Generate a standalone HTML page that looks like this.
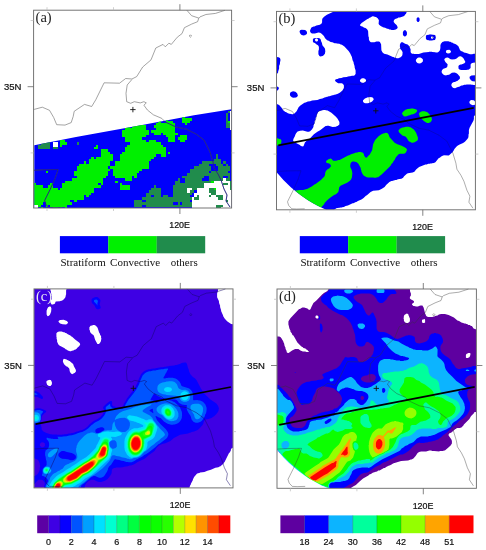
<!DOCTYPE html><html><head><meta charset="utf-8"><title>figure</title><style>html,body{margin:0;padding:0;background:#fff}svg{display:block}text{font-family:"Liberation Sans",sans-serif}.s,.s text{font-family:"Liberation Serif",serif}</style></head><body>
<svg width="486" height="550" viewBox="0 0 486 550">
<rect width="486" height="550" fill="#fff"/>
<clipPath id="ca"><polygon points="34.3,145.2 76.0,137.1 134.0,126.5 194.0,115.2 231.6,109.2 231.6,208.0 34.3,208.0"/></clipPath>
<g clip-path="url(#ca)" shape-rendering="crispEdges">
<rect x="33.6" y="100" width="198.0" height="110" fill="#0000fb"/>
<path fill="#00f000" d="M182.4,115.8h2.4v2.4h-2.4zM165.6,118.2h2.4v2.4h-2.4zM182.4,118.2h9.6v2.4h-9.6zM158.4,120.6h2.4v2.4h-2.4zM165.6,120.6h7.2v2.4h-7.2zM182.4,120.6h7.2v2.4h-7.2zM228.0,120.6h2.4v2.4h-2.4zM132.0,123.0h2.4v2.4h-2.4zM156.0,123.0h19.2v2.4h-19.2zM184.8,123.0h2.4v2.4h-2.4zM124.8,125.4h4.8v2.4h-4.8zM132.0,125.4h14.4v2.4h-14.4zM153.6,125.4h21.6v2.4h-21.6zM124.8,127.8h21.6v2.4h-21.6zM156.0,127.8h19.2v2.4h-19.2zM122.4,130.2h26.4v2.4h-26.4zM151.2,130.2h24.0v2.4h-24.0zM122.4,132.6h26.4v2.4h-26.4zM153.6,132.6h7.2v2.4h-7.2zM163.2,132.6h14.4v2.4h-14.4zM122.4,135.0h24.0v2.4h-24.0zM165.6,135.0h9.6v2.4h-9.6zM180.0,135.0h7.2v2.4h-7.2zM124.8,137.4h16.8v2.4h-16.8zM168.0,137.4h7.2v2.4h-7.2zM177.6,137.4h9.6v2.4h-9.6zM60.0,139.8h4.8v2.4h-4.8zM124.8,139.8h21.6v2.4h-21.6zM148.8,139.8h7.2v2.4h-7.2zM168.0,139.8h7.2v2.4h-7.2zM180.0,139.8h4.8v2.4h-4.8zM60.0,142.2h7.2v2.4h-7.2zM129.6,142.2h31.2v2.4h-31.2zM60.0,144.6h2.4v2.4h-2.4zM96.0,144.6h2.4v2.4h-2.4zM127.2,144.6h36.0v2.4h-36.0zM93.6,147.0h4.8v2.4h-4.8zM124.8,147.0h40.8v2.4h-40.8zM100.8,149.4h7.2v2.4h-7.2zM124.8,149.4h40.8v2.4h-40.8zM100.8,151.8h9.6v2.4h-9.6zM122.4,151.8h43.2v2.4h-43.2zM168.0,151.8h2.4v2.4h-2.4zM100.8,154.2h12.0v2.4h-12.0zM120.0,154.2h36.0v2.4h-36.0zM160.8,154.2h4.8v2.4h-4.8zM91.2,156.6h2.4v2.4h-2.4zM96.0,156.6h16.8v2.4h-16.8zM120.0,156.6h33.6v2.4h-33.6zM88.8,159.0h24.0v2.4h-24.0zM120.0,159.0h31.2v2.4h-31.2zM84.0,161.4h2.4v2.4h-2.4zM88.8,161.4h21.6v2.4h-21.6zM115.2,161.4h33.6v2.4h-33.6zM79.2,163.8h31.2v2.4h-31.2zM115.2,163.8h33.6v2.4h-33.6zM76.8,166.2h31.2v2.4h-31.2zM110.4,166.2h38.4v2.4h-38.4zM76.8,168.6h33.6v2.4h-33.6zM112.8,168.6h28.8v2.4h-28.8zM45.6,171.0h2.4v2.4h-2.4zM74.4,171.0h33.6v2.4h-33.6zM112.8,171.0h26.4v2.4h-26.4zM74.4,173.4h33.6v2.4h-33.6zM112.8,173.4h24.0v2.4h-24.0zM76.8,175.8h28.8v2.4h-28.8zM115.2,175.8h16.8v2.4h-16.8zM134.4,175.8h2.4v2.4h-2.4zM72.0,178.2h31.2v2.4h-31.2zM124.8,178.2h7.2v2.4h-7.2zM64.8,180.6h38.4v2.4h-38.4zM115.2,180.6h2.4v2.4h-2.4zM211.2,180.6h2.4v2.4h-2.4zM33.6,183.0h2.4v2.4h-2.4zM50.4,183.0h2.4v2.4h-2.4zM62.4,183.0h36.0v2.4h-36.0zM100.8,183.0h2.4v2.4h-2.4zM120.0,183.0h2.4v2.4h-2.4zM33.6,185.4h9.6v2.4h-9.6zM48.0,185.4h4.8v2.4h-4.8zM62.4,185.4h38.4v2.4h-38.4zM120.0,185.4h9.6v2.4h-9.6zM33.6,187.8h24.0v2.4h-24.0zM60.0,187.8h33.6v2.4h-33.6zM120.0,187.8h9.6v2.4h-9.6zM213.6,187.8h2.4v2.4h-2.4zM33.6,190.2h60.0v2.4h-60.0zM33.6,192.6h57.6v2.4h-57.6zM33.6,195.0h50.4v2.4h-50.4zM86.4,195.0h2.4v2.4h-2.4zM33.6,197.4h50.4v2.4h-50.4zM33.6,199.8h36.0v2.4h-36.0zM74.4,199.8h2.4v2.4h-2.4zM33.6,202.2h9.6v2.4h-9.6zM45.6,202.2h26.4v2.4h-26.4zM38.4,204.6h2.4v2.4h-2.4zM45.6,204.6h2.4v2.4h-2.4zM50.4,204.6h16.8v2.4h-16.8zM40.8,207.0h2.4v2.4h-2.4zM52.8,207.0h4.8v2.4h-4.8zM60.0,207.0h2.4v2.4h-2.4zM64.8,207.0h2.4v2.4h-2.4z"/>
<path fill="#208c4c" d="M228.0,111.0h2.4v2.4h-2.4zM225.6,113.4h2.4v2.4h-2.4zM225.6,115.8h2.4v2.4h-2.4zM225.6,118.2h2.4v2.4h-2.4zM225.6,120.6h2.4v2.4h-2.4zM225.6,123.0h4.8v2.4h-4.8zM225.6,125.4h4.8v2.4h-4.8zM40.8,142.2h9.6v2.4h-9.6zM76.8,142.2h2.4v2.4h-2.4zM38.4,144.6h12.0v2.4h-12.0zM38.4,147.0h12.0v2.4h-12.0zM52.8,147.0h4.8v2.4h-4.8zM216.0,154.2h2.4v2.4h-2.4zM216.0,156.6h2.4v2.4h-2.4zM213.6,159.0h7.2v2.4h-7.2zM201.6,161.4h19.2v2.4h-19.2zM223.2,161.4h2.4v2.4h-2.4zM199.2,163.8h9.6v2.4h-9.6zM216.0,163.8h7.2v2.4h-7.2zM225.6,163.8h2.4v2.4h-2.4zM194.4,166.2h16.8v2.4h-16.8zM218.4,166.2h12.0v2.4h-12.0zM189.6,168.6h21.6v2.4h-21.6zM218.4,168.6h12.0v2.4h-12.0zM189.6,171.0h19.2v2.4h-19.2zM211.2,171.0h16.8v2.4h-16.8zM187.2,173.4h43.2v2.4h-43.2zM182.4,175.8h21.6v2.4h-21.6zM208.8,175.8h14.4v2.4h-14.4zM228.0,175.8h2.4v2.4h-2.4zM177.6,178.2h2.4v2.4h-2.4zM184.8,178.2h16.8v2.4h-16.8zM208.8,178.2h14.4v2.4h-14.4zM225.6,178.2h4.8v2.4h-4.8zM175.2,180.6h4.8v2.4h-4.8zM184.8,180.6h26.4v2.4h-26.4zM230.4,180.6h2.4v2.4h-2.4zM175.2,183.0h28.8v2.4h-28.8zM223.2,183.0h4.8v2.4h-4.8zM230.4,183.0h2.4v2.4h-2.4zM153.6,185.4h2.4v2.4h-2.4zM172.8,185.4h31.2v2.4h-31.2zM230.4,185.4h2.4v2.4h-2.4zM151.2,187.8h9.6v2.4h-9.6zM172.8,187.8h14.4v2.4h-14.4zM192.0,187.8h4.8v2.4h-4.8zM208.8,187.8h4.8v2.4h-4.8zM230.4,187.8h2.4v2.4h-2.4zM148.8,190.2h12.0v2.4h-12.0zM172.8,190.2h14.4v2.4h-14.4zM189.6,190.2h4.8v2.4h-4.8zM208.8,190.2h7.2v2.4h-7.2zM146.4,192.6h14.4v2.4h-14.4zM172.8,192.6h19.2v2.4h-19.2zM211.2,192.6h4.8v2.4h-4.8zM146.4,195.0h4.8v2.4h-4.8zM153.6,195.0h7.2v2.4h-7.2zM163.2,195.0h4.8v2.4h-4.8zM172.8,195.0h16.8v2.4h-16.8zM196.8,195.0h2.4v2.4h-2.4zM208.8,195.0h2.4v2.4h-2.4zM216.0,195.0h7.2v2.4h-7.2zM141.6,197.4h50.4v2.4h-50.4zM194.4,197.4h4.8v2.4h-4.8zM218.4,197.4h4.8v2.4h-4.8zM134.4,199.8h7.2v2.4h-7.2zM146.4,199.8h43.2v2.4h-43.2zM225.6,199.8h2.4v2.4h-2.4zM134.4,202.2h38.4v2.4h-38.4zM177.6,202.2h2.4v2.4h-2.4zM182.4,202.2h9.6v2.4h-9.6zM134.4,204.6h7.2v2.4h-7.2zM146.4,204.6h45.6v2.4h-45.6zM216.0,204.6h7.2v2.4h-7.2zM216.0,207.0h4.8v2.4h-4.8z"/>
<path fill="#ffffff" d="M230.4,111.0h2.4v2.4h-2.4zM230.4,113.4h2.4v2.4h-2.4zM230.4,115.8h2.4v2.4h-2.4zM230.4,118.2h2.4v2.4h-2.4zM230.4,120.6h2.4v2.4h-2.4zM230.4,123.0h2.4v2.4h-2.4zM230.4,125.4h2.4v2.4h-2.4zM230.4,127.8h2.4v2.4h-2.4zM52.8,142.2h4.8v2.4h-4.8zM52.8,144.6h4.8v2.4h-4.8zM223.2,178.2h2.4v2.4h-2.4zM213.6,180.6h16.8v2.4h-16.8zM204.0,183.0h19.2v2.4h-19.2zM228.0,183.0h2.4v2.4h-2.4zM204.0,185.4h26.4v2.4h-26.4zM187.2,187.8h4.8v2.4h-4.8zM196.8,187.8h12.0v2.4h-12.0zM216.0,187.8h14.4v2.4h-14.4zM187.2,190.2h2.4v2.4h-2.4zM196.8,190.2h12.0v2.4h-12.0zM216.0,190.2h16.8v2.4h-16.8zM194.4,192.6h16.8v2.4h-16.8zM216.0,192.6h16.8v2.4h-16.8zM194.4,195.0h2.4v2.4h-2.4zM199.2,195.0h9.6v2.4h-9.6zM211.2,195.0h4.8v2.4h-4.8zM223.2,195.0h9.6v2.4h-9.6zM192.0,197.4h2.4v2.4h-2.4zM199.2,197.4h19.2v2.4h-19.2zM223.2,197.4h9.6v2.4h-9.6zM192.0,199.8h33.6v2.4h-33.6zM228.0,199.8h4.8v2.4h-4.8zM192.0,202.2h40.8v2.4h-40.8zM33.6,204.6h4.8v2.4h-4.8zM192.0,204.6h24.0v2.4h-24.0zM223.2,204.6h9.6v2.4h-9.6zM33.6,207.0h4.8v2.4h-4.8zM192.0,207.0h24.0v2.4h-24.0zM220.8,207.0h12.0v2.4h-12.0z"/>
</g>
<path d="M33.6,109.6 L34.5,109.3 L42.3,107.2 L49.5,110.3 L53.7,117.5 L56.7,124.7 L65.0,125.1 L71.2,122.6 L73.2,116.5 L74.2,111.3 L84.5,104.4 L91.7,106.5 L95.8,99.7 L104.1,82.8 L119.5,83.2 L125.7,78.5 L131.9,79.0 L136.7,76.6 L142.7,67.0 L151.0,59.9 L155.8,48.0 L163.0,44.4 L165.3,46.8 L168.9,43.2 L171.3,44.4 L177.3,37.2 L182.0,33.6 L184.4,27.7 L191.6,24.1 L197.6,21.7 L198.8,18.1 L191.6,15.7 L186.8,10.2 M198.8,18.1 L200.0,16.9 L205.9,14.5 L215.5,13.4 L225.0,10.3 M131.9,79.5 L127.2,85.0 L126.0,93.3 L126.7,101.7 L130.7,103.3 L134.3,101.7 L140.3,102.9 L143.9,101.7 L146.3,102.9 L143.9,105.2 L147.4,110.0 L153.4,114.8 L161.8,118.4 L165.3,122.0 L176.0,127.0 L186.0,129.0 L196.0,134.0 L204.0,140.0 L210.0,152.0 L213.0,162.0 L214.0,168.0 L218.0,174.0 L221.0,180.0 L224.0,189.0 L227.0,195.0 L226.0,201.0 L230.0,207.0 M190.4,34.8 L191.6,36.0 L190.4,37.2 L189.2,36.0 L190.4,34.8 M33.8,170.3 L43.9,169.7 L58.1,169.5 L55.1,178.4 L50.1,189.5 L46.4,196.9 L44.6,200.6 L45.8,204.3 L48.9,207.6 L53.8,207.8 L61.8,207.6" fill="none" stroke="#666" stroke-width="0.60" stroke-opacity="1.00" stroke-linejoin="round"/>
<g clip-path="url(#ca)"><path d="M33.6,109.6 L34.5,109.3 L42.3,107.2 L49.5,110.3 L53.7,117.5 L56.7,124.7 L65.0,125.1 L71.2,122.6 L73.2,116.5 L74.2,111.3 L84.5,104.4 L91.7,106.5 L95.8,99.7 L104.1,82.8 L119.5,83.2 L125.7,78.5 L131.9,79.0 L136.7,76.6 L142.7,67.0 L151.0,59.9 L155.8,48.0 L163.0,44.4 L165.3,46.8 L168.9,43.2 L171.3,44.4 L177.3,37.2 L182.0,33.6 L184.4,27.7 L191.6,24.1 L197.6,21.7 L198.8,18.1 L191.6,15.7 L186.8,10.2 M198.8,18.1 L200.0,16.9 L205.9,14.5 L215.5,13.4 L225.0,10.3 M131.9,79.5 L127.2,85.0 L126.0,93.3 L126.7,101.7 L130.7,103.3 L134.3,101.7 L140.3,102.9 L143.9,101.7 L146.3,102.9 L143.9,105.2 L147.4,110.0 L153.4,114.8 L161.8,118.4 L165.3,122.0 L176.0,127.0 L186.0,129.0 L196.0,134.0 L204.0,140.0 L210.0,152.0 L213.0,162.0 L214.0,168.0 L218.0,174.0 L221.0,180.0 L224.0,189.0 L227.0,195.0 L226.0,201.0 L230.0,207.0 M190.4,34.8 L191.6,36.0 L190.4,37.2 L189.2,36.0 L190.4,34.8 M33.8,170.3 L43.9,169.7 L58.1,169.5 L55.1,178.4 L50.1,189.5 L46.4,196.9 L44.6,200.6 L45.8,204.3 L48.9,207.6 L53.8,207.8 L61.8,207.6" fill="none" stroke="#14148c" stroke-width="0.75" stroke-opacity="1.00" stroke-linejoin="round"/></g>
<path d="M130.2,109.6h5.4M132.9,106.9v5.4" stroke="#111" stroke-width="0.9"/>
<rect x="33.6" y="10.2" width="198.0" height="197.8" fill="none" stroke="#6e6e6e" stroke-width="0.95"/>
<path d="M179.9,10.2v-6M179.9,208.0v6M33.6,86.7h-6M231.6,86.7h6" stroke="#666" stroke-width="0.8" fill="none"/>
<path d="M47.0,10.2v-3M47.0,208.0v3M113.5,10.2v-3M113.5,208.0v3M33.6,20.5h-3M231.6,20.5h3M33.6,152.9h-3M231.6,152.9h3" stroke="#bbb" stroke-width="0.7" fill="none"/>
<text x="21.4" y="90.1" font-size="9.5" text-anchor="end" fill="#111" stroke="#111" stroke-width="0.2">35N</text>
<text x="179.6" y="228.2" font-size="8.9" text-anchor="middle" fill="#111" stroke="#111" stroke-width="0.22">120E</text>
<text x="35.6" y="22.0" font-size="14.5" class="s" fill="#222">(a)</text>
<rect x="59.9" y="236.1" width="48.5" height="17.2" fill="#0000fb"/>
<rect x="108.3" y="236.1" width="48.5" height="17.2" fill="#00f000"/>
<rect x="156.7" y="236.1" width="48.5" height="17.2" fill="#208c4c"/>
<g class="s" font-size="11" fill="#111">
<text x="60.5" y="266.4">Stratiform</text>
<text x="110.1" y="266.4">Convective</text>
<text x="170.8" y="266.4">others</text>
</g>
<path d="M276.5,110.8 L277.4,110.5 L285.2,108.4 L292.4,111.5 L296.6,118.7 L299.6,125.9 L307.9,126.3 L314.1,123.8 L316.1,117.7 L317.1,112.5 L327.4,105.6 L334.6,107.7 L338.7,100.9 L347.0,84.0 L362.4,84.4 L368.6,79.7 L374.8,80.2 L379.6,77.8 L385.6,68.2 L393.9,61.1 L398.7,49.2 L405.9,45.6 L408.2,48.0 L411.8,44.4 L414.2,45.6 L420.2,38.4 L424.9,34.8 L427.3,28.9 L434.5,25.3 L440.5,22.9 L441.7,19.3 L434.5,16.9 L429.7,11.4 M441.7,19.3 L442.9,18.1 L448.8,15.7 L458.4,14.6 L467.9,11.5 M374.8,80.7 L370.1,86.2 L368.9,94.5 L369.6,102.9 L373.6,104.5 L377.2,102.9 L383.2,104.1 L386.8,102.9 L389.2,104.1 L386.8,106.4 L390.3,111.2 L396.3,116.0 L404.7,119.6 L408.2,123.2 L418.9,128.2 L428.9,130.2 L438.9,135.2 L446.9,141.2 L452.9,153.2 L455.9,163.2 L456.9,169.2 L460.9,175.2 L463.9,181.2 L466.9,190.2 L469.9,196.2 L468.9,202.2 L472.9,208.2 M433.3,36.0 L434.5,37.2 L433.3,38.4 L432.1,37.2 L433.3,36.0 M276.7,171.5 L286.8,170.9 L301.0,170.7 L298.0,179.6 L293.0,190.7 L289.3,198.1 L287.5,201.8 L288.7,205.5 L291.8,208.8 L296.7,209.0 L304.7,208.8" fill="none" stroke="#777" stroke-width="0.60" stroke-opacity="1.00" stroke-linejoin="round"/>
<clipPath id="cb"><rect x="276.5" y="11.4" width="198.9" height="198.4"/></clipPath>
<g clip-path="url(#cb)">
<path fill="#0000fb" fill-rule="evenodd" d="M290.1,92.8 289.9,95.0 290.4,96.0 292.1,97.5 292.9,97.5 293.1,97.8 296.1,97.5 297.4,96.5 297.9,95.5 297.1,93.3 295.4,91.8 293.1,91.3 291.6,91.8ZM276.6,86.3 276.6,90.8 277.9,90.3 278.9,88.5 278.6,87.3ZM469.6,76.8 469.6,78.3 470.9,80.3 472.6,81.3 475.4,81.5 475.4,75.3 471.4,75.5ZM277.4,57.0 276.6,57.0 276.6,74.0 276.6,73.8 277.4,73.5 278.1,72.5 278.1,71.8 279.1,68.5 279.1,66.0 279.9,64.0 280.1,61.5 280.4,61.3 280.4,59.3 279.9,58.0 278.6,57.3 277.6,57.3ZM313.4,38.5 312.9,39.3 312.9,41.5 313.4,42.5 314.9,43.0 316.6,44.5 317.6,45.0 318.4,45.8 318.9,47.0 318.9,49.5 318.4,51.0 318.4,54.3 319.4,56.0 320.4,56.5 322.6,56.0 323.4,55.5 324.9,53.8 325.4,50.8 325.1,50.5 325.1,49.0 324.6,48.0 322.4,45.3 321.9,42.8 321.4,42.0 320.6,39.3 319.9,38.5 318.4,38.0 315.1,38.0ZM315.9,38.5 317.1,38.5 318.1,39.8 317.9,40.8 317.1,41.5 315.9,41.5 314.9,40.3 315.1,39.3ZM435.4,35.5 434.9,35.0 431.1,34.5 430.9,34.3 430.6,34.5 429.1,34.5 428.9,34.8 426.9,35.0 426.1,35.5 425.9,36.3 425.9,38.8 426.9,40.0 428.9,40.3 429.1,40.5 432.4,40.5 432.6,40.3 434.9,40.0 435.6,38.8 435.6,38.0 435.9,37.8ZM430.9,37.3 431.6,36.5 432.9,36.5 433.4,37.0 433.4,38.0 432.6,38.8 431.9,38.8 431.1,38.3ZM405.6,30.3 404.1,30.3 402.9,32.0 402.9,34.5 403.1,35.3 404.1,36.3 404.9,36.5 405.6,36.3 406.6,35.3 406.9,34.8 406.9,33.5 407.1,33.3 406.9,33.0 406.9,32.0ZM300.1,30.3 299.6,31.3 299.6,32.0 300.4,33.8 301.6,35.0 303.9,35.5 304.1,35.3 305.1,35.3 305.9,34.5 306.6,34.3 307.1,33.3 306.9,32.0 306.4,31.0 305.1,30.0 301.6,29.8ZM418.1,17.3 417.4,17.5 416.6,18.5 416.6,20.8 417.6,22.0 418.6,22.0 419.6,20.8 419.6,18.8 419.1,17.8ZM475.4,53.8 473.9,53.8 472.1,54.3 469.9,54.3 466.4,53.0 463.9,52.5 463.4,52.0 461.9,51.3 461.4,51.3 460.1,50.3 458.4,46.3 456.6,44.8 454.9,43.8 454.1,43.8 452.1,42.5 451.4,42.5 450.4,41.8 449.6,41.8 448.4,41.3 444.6,41.3 442.4,42.0 440.9,43.8 440.4,45.3 440.4,48.5 440.1,48.8 440.1,49.8 439.6,50.8 438.4,52.0 437.4,52.5 435.6,52.5 435.4,52.3 432.1,52.0 431.9,51.8 429.1,51.8 428.9,52.0 423.4,52.5 418.9,54.0 414.1,54.0 413.9,53.8 412.1,53.8 411.1,53.0 410.6,52.0 410.6,49.3 409.1,46.0 407.6,44.5 405.1,43.8 402.6,42.3 401.4,42.3 400.6,43.0 399.9,44.8 399.9,47.0 400.1,47.3 400.4,49.0 401.9,50.8 402.6,52.3 402.4,55.0 401.9,56.0 400.6,57.3 398.4,58.3 396.6,58.3 395.9,57.8 394.6,57.8 393.6,57.0 392.9,57.0 387.4,54.5 384.1,53.8 382.4,52.3 381.4,50.3 381.1,44.3 379.9,42.0 378.9,41.5 376.4,41.5 374.4,42.3 371.1,42.3 370.4,42.0 369.4,40.8 368.9,39.3 368.9,37.5 368.4,36.3 368.1,31.0 367.1,29.3 365.9,28.3 364.9,27.8 364.1,27.8 362.9,26.8 360.6,26.0 359.9,25.0 361.6,23.0 367.4,19.0 368.4,18.8 369.1,18.0 370.9,17.3 371.4,16.8 371.9,16.8 372.4,16.3 373.1,16.3 376.4,17.3 377.9,18.5 378.9,20.3 378.6,23.8 379.1,24.8 379.6,25.0 380.1,25.8 380.6,25.8 381.4,26.5 381.9,26.5 382.9,27.3 385.1,27.8 387.1,28.8 388.1,28.8 389.4,29.5 390.4,29.5 391.6,30.0 394.1,30.0 394.4,29.8 395.1,29.8 396.6,29.0 397.6,28.0 397.6,27.0 396.6,25.0 395.1,23.8 393.9,22.3 393.6,21.3 394.1,20.0 395.1,19.0 397.4,18.3 398.4,17.5 399.9,17.5 403.6,16.3 404.6,15.5 405.1,14.5 405.9,14.0 406.9,11.5 333.9,11.5 326.9,14.8 324.4,16.5 322.6,18.3 322.1,19.8 322.1,22.3 321.6,23.5 319.9,24.8 316.4,25.5 314.4,26.5 313.6,26.5 311.4,27.5 310.1,30.3 310.1,31.5 310.6,32.5 311.9,33.5 314.9,33.5 318.4,32.5 320.1,32.8 321.6,33.8 323.9,36.0 325.1,38.3 327.1,40.3 328.6,40.8 330.6,42.0 332.4,42.3 334.6,43.3 336.4,43.3 336.6,43.5 339.4,43.8 340.1,44.3 341.9,44.8 344.4,46.5 348.6,51.0 350.1,53.3 351.9,57.0 352.6,60.3 353.6,62.3 353.6,63.0 354.6,66.3 354.6,67.3 355.6,70.5 355.6,74.0 354.4,75.5 353.6,75.8 351.6,75.8 351.4,76.0 347.9,76.5 346.9,77.0 343.4,77.3 341.4,78.0 338.9,78.3 337.6,79.0 335.9,79.3 335.1,80.0 335.1,80.8 335.6,81.5 338.1,83.3 341.6,83.3 342.4,83.5 343.6,84.8 343.9,85.5 343.9,87.8 343.6,88.5 342.4,90.5 340.1,92.5 337.9,93.8 334.9,94.8 334.1,94.8 333.1,95.3 332.4,95.3 329.4,96.3 328.6,96.3 327.6,96.8 326.9,96.8 325.9,97.3 325.1,97.3 322.4,98.5 319.9,99.0 317.4,100.0 312.1,100.5 310.1,101.3 307.9,101.5 305.6,102.5 304.4,102.8 300.4,105.5 298.6,107.3 296.6,111.3 294.4,113.5 293.1,114.3 291.6,114.3 291.4,114.0 289.4,113.8 287.9,113.3 285.9,112.0 285.4,112.0 282.9,110.0 281.6,107.8 279.1,105.0 276.9,104.0 276.6,104.3 276.6,172.3 283.4,180.0 291.1,187.5 298.4,193.5 307.6,200.0 313.9,203.8 316.1,204.8 316.6,205.3 326.1,209.8 333.9,209.8 336.9,208.0 338.4,208.0 338.6,207.8 340.1,207.8 340.4,207.5 341.9,207.5 342.1,207.3 343.9,207.0 345.6,206.0 347.9,205.5 352.6,203.3 353.4,203.3 355.9,202.0 356.4,202.0 357.9,201.0 361.4,199.5 363.6,198.0 365.9,195.8 366.9,195.3 370.6,192.0 373.1,190.8 378.9,190.3 381.9,188.8 384.6,187.0 386.1,185.0 389.4,182.0 391.4,181.0 392.1,181.0 395.4,180.0 396.4,180.0 397.9,179.3 401.4,178.8 403.1,177.8 404.1,176.3 406.9,173.8 407.9,173.3 412.6,172.5 414.4,171.8 416.1,169.5 419.1,167.0 425.4,164.5 426.6,164.5 428.4,163.8 429.9,163.8 430.1,163.5 431.6,163.5 431.9,163.3 433.9,163.0 435.4,162.3 438.6,158.3 440.1,157.5 441.1,156.5 442.4,156.0 442.9,155.5 443.6,155.5 443.9,155.3 448.6,155.5 449.1,155.3 451.9,152.8 453.4,151.0 454.6,148.8 457.1,146.0 459.1,144.8 463.1,143.0 464.9,141.8 467.6,138.8 468.4,137.3 468.6,134.0 468.9,133.8 468.9,130.0 469.6,127.8 473.4,120.8 473.9,119.0 473.9,116.5 474.1,116.0 475.4,115.0 475.4,104.0 474.9,104.8 472.9,105.3 470.9,104.5 469.6,103.3 469.4,102.5 469.6,101.3 470.6,100.3 471.4,100.0 473.6,100.3 474.1,100.5 475.4,102.0 475.4,85.0 473.4,85.0 473.1,84.8 471.4,84.8 471.1,84.5 466.4,84.5 466.1,84.8 464.4,84.8 462.4,85.5 461.6,85.5 460.4,86.0 459.9,86.5 457.1,87.3 455.1,88.3 453.4,88.0 452.4,87.3 451.4,85.8 451.4,84.5 452.1,83.0 453.9,82.0 454.9,82.0 457.4,80.8 457.9,80.8 458.1,80.3 459.6,79.0 459.9,78.5 459.9,76.8 457.6,74.0 456.1,73.0 454.4,72.5 451.9,72.8 449.1,74.8 447.1,75.0 446.9,75.3 445.6,75.3 445.4,75.5 443.6,74.8 441.9,73.0 441.6,71.5 442.1,70.0 443.4,68.8 446.4,67.8 447.4,66.5 447.4,65.5 447.6,65.3 447.6,64.3 445.4,62.0 444.4,60.0 444.4,59.0 445.9,57.8 447.9,57.5 450.6,59.3 451.4,59.3 451.6,59.5 454.9,59.3 456.6,58.5 458.9,56.5 460.6,56.3 462.1,57.0 463.6,58.5 465.4,62.0 464.4,63.3 461.4,64.5 460.6,64.5 459.4,65.0 458.6,65.8 458.4,66.5 458.6,68.8 459.9,69.8 460.6,69.8 460.9,70.0 466.6,70.0 466.9,69.8 468.1,69.8 468.9,69.5 470.6,68.0 470.6,64.5 471.6,63.3 473.1,62.8 475.4,62.5ZM339.4,122.0 339.4,124.3 339.1,124.8 337.6,126.0 337.1,126.0 335.9,126.8 332.6,127.0 328.6,125.8 326.9,125.8 326.6,126.0 325.6,126.0 320.1,130.3 317.4,131.8 313.9,134.3 309.9,138.5 308.4,139.8 306.9,140.5 304.9,142.5 303.6,146.0 302.9,146.5 300.9,146.0 299.9,145.0 294.1,142.0 293.1,140.8 293.4,139.0 295.1,135.8 295.1,135.3 296.1,133.3 297.6,131.5 300.1,130.8 302.9,130.5 307.4,131.8 308.9,131.8 310.1,131.3 312.1,129.3 313.4,127.0 313.6,125.3 314.4,123.5 314.6,121.3 315.4,119.8 315.6,118.0 316.4,116.5 316.6,115.3 318.1,112.0 319.4,111.0 321.9,110.5 322.1,110.3 323.1,110.3 323.4,110.0 325.4,110.0 325.6,110.3 327.6,110.5 331.4,112.8 335.9,116.8 337.6,118.8ZM373.6,98.8 373.6,99.8 372.1,101.5 370.4,102.5 367.9,103.3 365.1,103.3 364.4,103.0 363.4,102.3 362.9,101.3 363.1,100.3 364.9,98.5 367.9,97.3 369.1,97.3 369.4,97.0 371.9,97.3 372.6,97.5ZM359.9,80.3 361.1,78.8 362.4,78.3 363.6,78.3 364.9,78.8 365.9,79.8 366.1,80.8 365.9,81.5 364.1,82.8 361.9,82.8 360.1,81.5ZM417.4,58.0 418.6,57.5 420.4,57.5 422.1,58.5 422.9,59.5 422.9,61.3 422.6,61.8 420.9,63.3 420.1,63.3 419.9,63.5 417.9,63.3 417.1,62.8 415.9,61.3 415.9,59.8ZM445.9,51.0 446.9,50.0 449.4,49.8 450.9,51.0 450.9,52.3 449.6,53.3 447.9,53.5 446.6,53.0 446.1,52.5Z"/>
<path fill="#00f000" fill-rule="evenodd" d="M277.6,138.3 276.6,138.3 276.6,145.5 278.1,145.3 279.4,144.5 279.9,144.5 280.6,143.8 281.4,142.3 281.4,140.5 280.9,139.5 280.1,139.0 279.4,139.0ZM406.9,149.3 406.1,148.3 404.6,147.3 401.6,145.8 397.4,144.3 394.6,142.8 389.6,137.3 388.6,134.5 387.4,133.0 385.6,132.8 384.6,133.3 382.9,133.5 382.4,134.0 381.4,134.3 378.6,136.3 375.1,140.0 373.1,144.3 372.1,150.3 369.6,154.8 368.6,155.5 366.9,157.5 365.9,157.8 364.9,156.8 364.1,155.5 363.9,154.0 362.6,152.5 361.9,152.5 360.9,152.0 358.6,152.0 357.4,152.5 355.1,152.8 354.4,153.3 350.9,154.3 349.9,155.0 348.1,155.5 339.6,160.0 338.6,160.0 336.1,160.8 333.4,160.8 332.9,160.5 331.6,159.0 330.6,158.5 328.4,159.3 326.1,161.0 326.1,162.3 326.9,163.0 329.4,163.5 329.9,164.3 330.4,164.5 330.9,165.5 330.9,166.5 329.1,168.5 327.6,169.3 325.9,171.0 325.1,173.3 325.1,174.8 324.4,176.5 320.9,180.0 315.6,184.0 314.4,184.5 312.1,186.3 307.6,188.8 303.1,190.0 298.9,190.0 298.6,190.3 297.4,190.3 297.1,190.5 295.6,190.5 295.1,190.8 301.4,195.8 307.6,200.0 313.9,203.8 321.1,207.5 324.1,204.3 324.9,202.5 325.6,202.0 326.9,200.5 331.1,197.0 334.1,195.0 335.9,194.3 338.1,192.3 338.6,191.0 339.1,187.8 339.6,186.8 340.9,185.5 347.1,182.8 349.6,181.0 350.9,179.8 351.9,177.5 352.4,172.8 352.1,172.5 352.1,171.5 351.6,169.8 350.4,167.3 350.1,165.5 350.4,165.3 350.4,164.0 351.1,162.5 352.4,161.5 354.4,161.5 354.6,161.8 356.4,162.0 358.4,163.8 360.6,167.8 361.1,170.3 361.4,170.5 361.4,171.5 362.4,173.8 363.4,175.3 365.1,176.5 365.6,176.5 366.6,177.3 367.4,177.3 367.6,177.5 373.6,177.5 373.9,177.8 375.9,177.8 377.1,177.3 378.1,177.3 381.9,174.3 389.6,166.8 390.9,165.3 391.1,164.5 393.1,162.3 393.6,161.0 394.6,160.0 395.9,157.3 398.6,154.3 399.9,153.8 404.1,153.8 405.4,153.0 406.1,152.0 406.9,150.3ZM398.6,130.3 398.6,131.5 399.4,132.8 402.4,135.5 405.4,136.5 406.6,137.8 408.6,141.0 410.1,142.0 410.6,142.0 411.6,142.8 412.9,142.8 414.6,142.3 417.4,140.5 417.9,139.5 417.9,137.5 416.1,132.8 414.1,129.8 410.6,127.3 409.9,127.3 408.9,126.8 405.6,126.8 405.4,127.0 401.6,127.8 401.1,128.3 400.1,128.5ZM419.4,112.8 419.1,113.3 419.1,114.8 420.1,117.5 423.9,121.0 426.1,122.5 427.4,123.0 428.9,123.0 429.6,122.5 430.1,122.5 431.1,121.5 431.9,120.0 431.9,118.8 431.1,116.5 430.1,115.5 429.9,114.8 427.4,112.3 424.6,111.3 422.1,111.3 420.4,112.0ZM417.1,110.3 416.4,109.5 412.9,108.5 410.9,108.5 410.6,108.8 407.6,109.0 406.6,109.5 405.9,109.5 403.6,111.3 402.1,113.0 402.1,114.0 403.6,116.0 404.6,116.5 406.6,116.3 409.1,115.3 409.9,115.3 411.1,114.5 413.1,114.3 415.6,113.0 417.1,111.3Z"/>
</g>
<clipPath id="cbb"><path clip-rule="evenodd" d="M290.1,92.8 289.9,95.0 290.4,96.0 292.1,97.5 292.9,97.5 293.1,97.8 296.1,97.5 297.4,96.5 297.9,95.5 297.1,93.3 295.4,91.8 293.1,91.3 291.6,91.8ZM276.6,86.3 276.6,90.8 277.9,90.3 278.9,88.5 278.6,87.3ZM469.6,76.8 469.6,78.3 470.9,80.3 472.6,81.3 475.4,81.5 475.4,75.3 471.4,75.5ZM277.4,57.0 276.6,57.0 276.6,74.0 276.6,73.8 277.4,73.5 278.1,72.5 278.1,71.8 279.1,68.5 279.1,66.0 279.9,64.0 280.1,61.5 280.4,61.3 280.4,59.3 279.9,58.0 278.6,57.3 277.6,57.3ZM313.4,38.5 312.9,39.3 312.9,41.5 313.4,42.5 314.9,43.0 316.6,44.5 317.6,45.0 318.4,45.8 318.9,47.0 318.9,49.5 318.4,51.0 318.4,54.3 319.4,56.0 320.4,56.5 322.6,56.0 323.4,55.5 324.9,53.8 325.4,50.8 325.1,50.5 325.1,49.0 324.6,48.0 322.4,45.3 321.9,42.8 321.4,42.0 320.6,39.3 319.9,38.5 318.4,38.0 315.1,38.0ZM315.9,38.5 317.1,38.5 318.1,39.8 317.9,40.8 317.1,41.5 315.9,41.5 314.9,40.3 315.1,39.3ZM435.4,35.5 434.9,35.0 431.1,34.5 430.9,34.3 430.6,34.5 429.1,34.5 428.9,34.8 426.9,35.0 426.1,35.5 425.9,36.3 425.9,38.8 426.9,40.0 428.9,40.3 429.1,40.5 432.4,40.5 432.6,40.3 434.9,40.0 435.6,38.8 435.6,38.0 435.9,37.8ZM430.9,37.3 431.6,36.5 432.9,36.5 433.4,37.0 433.4,38.0 432.6,38.8 431.9,38.8 431.1,38.3ZM405.6,30.3 404.1,30.3 402.9,32.0 402.9,34.5 403.1,35.3 404.1,36.3 404.9,36.5 405.6,36.3 406.6,35.3 406.9,34.8 406.9,33.5 407.1,33.3 406.9,33.0 406.9,32.0ZM300.1,30.3 299.6,31.3 299.6,32.0 300.4,33.8 301.6,35.0 303.9,35.5 304.1,35.3 305.1,35.3 305.9,34.5 306.6,34.3 307.1,33.3 306.9,32.0 306.4,31.0 305.1,30.0 301.6,29.8ZM418.1,17.3 417.4,17.5 416.6,18.5 416.6,20.8 417.6,22.0 418.6,22.0 419.6,20.8 419.6,18.8 419.1,17.8ZM475.4,53.8 473.9,53.8 472.1,54.3 469.9,54.3 466.4,53.0 463.9,52.5 463.4,52.0 461.9,51.3 461.4,51.3 460.1,50.3 458.4,46.3 456.6,44.8 454.9,43.8 454.1,43.8 452.1,42.5 451.4,42.5 450.4,41.8 449.6,41.8 448.4,41.3 444.6,41.3 442.4,42.0 440.9,43.8 440.4,45.3 440.4,48.5 440.1,48.8 440.1,49.8 439.6,50.8 438.4,52.0 437.4,52.5 435.6,52.5 435.4,52.3 432.1,52.0 431.9,51.8 429.1,51.8 428.9,52.0 423.4,52.5 418.9,54.0 414.1,54.0 413.9,53.8 412.1,53.8 411.1,53.0 410.6,52.0 410.6,49.3 409.1,46.0 407.6,44.5 405.1,43.8 402.6,42.3 401.4,42.3 400.6,43.0 399.9,44.8 399.9,47.0 400.1,47.3 400.4,49.0 401.9,50.8 402.6,52.3 402.4,55.0 401.9,56.0 400.6,57.3 398.4,58.3 396.6,58.3 395.9,57.8 394.6,57.8 393.6,57.0 392.9,57.0 387.4,54.5 384.1,53.8 382.4,52.3 381.4,50.3 381.1,44.3 379.9,42.0 378.9,41.5 376.4,41.5 374.4,42.3 371.1,42.3 370.4,42.0 369.4,40.8 368.9,39.3 368.9,37.5 368.4,36.3 368.1,31.0 367.1,29.3 365.9,28.3 364.9,27.8 364.1,27.8 362.9,26.8 360.6,26.0 359.9,25.0 361.6,23.0 367.4,19.0 368.4,18.8 369.1,18.0 370.9,17.3 371.4,16.8 371.9,16.8 372.4,16.3 373.1,16.3 376.4,17.3 377.9,18.5 378.9,20.3 378.6,23.8 379.1,24.8 379.6,25.0 380.1,25.8 380.6,25.8 381.4,26.5 381.9,26.5 382.9,27.3 385.1,27.8 387.1,28.8 388.1,28.8 389.4,29.5 390.4,29.5 391.6,30.0 394.1,30.0 394.4,29.8 395.1,29.8 396.6,29.0 397.6,28.0 397.6,27.0 396.6,25.0 395.1,23.8 393.9,22.3 393.6,21.3 394.1,20.0 395.1,19.0 397.4,18.3 398.4,17.5 399.9,17.5 403.6,16.3 404.6,15.5 405.1,14.5 405.9,14.0 406.9,11.5 333.9,11.5 326.9,14.8 324.4,16.5 322.6,18.3 322.1,19.8 322.1,22.3 321.6,23.5 319.9,24.8 316.4,25.5 314.4,26.5 313.6,26.5 311.4,27.5 310.1,30.3 310.1,31.5 310.6,32.5 311.9,33.5 314.9,33.5 318.4,32.5 320.1,32.8 321.6,33.8 323.9,36.0 325.1,38.3 327.1,40.3 328.6,40.8 330.6,42.0 332.4,42.3 334.6,43.3 336.4,43.3 336.6,43.5 339.4,43.8 340.1,44.3 341.9,44.8 344.4,46.5 348.6,51.0 350.1,53.3 351.9,57.0 352.6,60.3 353.6,62.3 353.6,63.0 354.6,66.3 354.6,67.3 355.6,70.5 355.6,74.0 354.4,75.5 353.6,75.8 351.6,75.8 351.4,76.0 347.9,76.5 346.9,77.0 343.4,77.3 341.4,78.0 338.9,78.3 337.6,79.0 335.9,79.3 335.1,80.0 335.1,80.8 335.6,81.5 338.1,83.3 341.6,83.3 342.4,83.5 343.6,84.8 343.9,85.5 343.9,87.8 343.6,88.5 342.4,90.5 340.1,92.5 337.9,93.8 334.9,94.8 334.1,94.8 333.1,95.3 332.4,95.3 329.4,96.3 328.6,96.3 327.6,96.8 326.9,96.8 325.9,97.3 325.1,97.3 322.4,98.5 319.9,99.0 317.4,100.0 312.1,100.5 310.1,101.3 307.9,101.5 305.6,102.5 304.4,102.8 300.4,105.5 298.6,107.3 296.6,111.3 294.4,113.5 293.1,114.3 291.6,114.3 291.4,114.0 289.4,113.8 287.9,113.3 285.9,112.0 285.4,112.0 282.9,110.0 281.6,107.8 279.1,105.0 276.9,104.0 276.6,104.3 276.6,172.3 283.4,180.0 291.1,187.5 298.4,193.5 307.6,200.0 313.9,203.8 316.1,204.8 316.6,205.3 326.1,209.8 333.9,209.8 336.9,208.0 338.4,208.0 338.6,207.8 340.1,207.8 340.4,207.5 341.9,207.5 342.1,207.3 343.9,207.0 345.6,206.0 347.9,205.5 352.6,203.3 353.4,203.3 355.9,202.0 356.4,202.0 357.9,201.0 361.4,199.5 363.6,198.0 365.9,195.8 366.9,195.3 370.6,192.0 373.1,190.8 378.9,190.3 381.9,188.8 384.6,187.0 386.1,185.0 389.4,182.0 391.4,181.0 392.1,181.0 395.4,180.0 396.4,180.0 397.9,179.3 401.4,178.8 403.1,177.8 404.1,176.3 406.9,173.8 407.9,173.3 412.6,172.5 414.4,171.8 416.1,169.5 419.1,167.0 425.4,164.5 426.6,164.5 428.4,163.8 429.9,163.8 430.1,163.5 431.6,163.5 431.9,163.3 433.9,163.0 435.4,162.3 438.6,158.3 440.1,157.5 441.1,156.5 442.4,156.0 442.9,155.5 443.6,155.5 443.9,155.3 448.6,155.5 449.1,155.3 451.9,152.8 453.4,151.0 454.6,148.8 457.1,146.0 459.1,144.8 463.1,143.0 464.9,141.8 467.6,138.8 468.4,137.3 468.6,134.0 468.9,133.8 468.9,130.0 469.6,127.8 473.4,120.8 473.9,119.0 473.9,116.5 474.1,116.0 475.4,115.0 475.4,104.0 474.9,104.8 472.9,105.3 470.9,104.5 469.6,103.3 469.4,102.5 469.6,101.3 470.6,100.3 471.4,100.0 473.6,100.3 474.1,100.5 475.4,102.0 475.4,85.0 473.4,85.0 473.1,84.8 471.4,84.8 471.1,84.5 466.4,84.5 466.1,84.8 464.4,84.8 462.4,85.5 461.6,85.5 460.4,86.0 459.9,86.5 457.1,87.3 455.1,88.3 453.4,88.0 452.4,87.3 451.4,85.8 451.4,84.5 452.1,83.0 453.9,82.0 454.9,82.0 457.4,80.8 457.9,80.8 458.1,80.3 459.6,79.0 459.9,78.5 459.9,76.8 457.6,74.0 456.1,73.0 454.4,72.5 451.9,72.8 449.1,74.8 447.1,75.0 446.9,75.3 445.6,75.3 445.4,75.5 443.6,74.8 441.9,73.0 441.6,71.5 442.1,70.0 443.4,68.8 446.4,67.8 447.4,66.5 447.4,65.5 447.6,65.3 447.6,64.3 445.4,62.0 444.4,60.0 444.4,59.0 445.9,57.8 447.9,57.5 450.6,59.3 451.4,59.3 451.6,59.5 454.9,59.3 456.6,58.5 458.9,56.5 460.6,56.3 462.1,57.0 463.6,58.5 465.4,62.0 464.4,63.3 461.4,64.5 460.6,64.5 459.4,65.0 458.6,65.8 458.4,66.5 458.6,68.8 459.9,69.8 460.6,69.8 460.9,70.0 466.6,70.0 466.9,69.8 468.1,69.8 468.9,69.5 470.6,68.0 470.6,64.5 471.6,63.3 473.1,62.8 475.4,62.5ZM339.4,122.0 339.4,124.3 339.1,124.8 337.6,126.0 337.1,126.0 335.9,126.8 332.6,127.0 328.6,125.8 326.9,125.8 326.6,126.0 325.6,126.0 320.1,130.3 317.4,131.8 313.9,134.3 309.9,138.5 308.4,139.8 306.9,140.5 304.9,142.5 303.6,146.0 302.9,146.5 300.9,146.0 299.9,145.0 294.1,142.0 293.1,140.8 293.4,139.0 295.1,135.8 295.1,135.3 296.1,133.3 297.6,131.5 300.1,130.8 302.9,130.5 307.4,131.8 308.9,131.8 310.1,131.3 312.1,129.3 313.4,127.0 313.6,125.3 314.4,123.5 314.6,121.3 315.4,119.8 315.6,118.0 316.4,116.5 316.6,115.3 318.1,112.0 319.4,111.0 321.9,110.5 322.1,110.3 323.1,110.3 323.4,110.0 325.4,110.0 325.6,110.3 327.6,110.5 331.4,112.8 335.9,116.8 337.6,118.8ZM373.6,98.8 373.6,99.8 372.1,101.5 370.4,102.5 367.9,103.3 365.1,103.3 364.4,103.0 363.4,102.3 362.9,101.3 363.1,100.3 364.9,98.5 367.9,97.3 369.1,97.3 369.4,97.0 371.9,97.3 372.6,97.5ZM359.9,80.3 361.1,78.8 362.4,78.3 363.6,78.3 364.9,78.8 365.9,79.8 366.1,80.8 365.9,81.5 364.1,82.8 361.9,82.8 360.1,81.5ZM417.4,58.0 418.6,57.5 420.4,57.5 422.1,58.5 422.9,59.5 422.9,61.3 422.6,61.8 420.9,63.3 420.1,63.3 419.9,63.5 417.9,63.3 417.1,62.8 415.9,61.3 415.9,59.8ZM445.9,51.0 446.9,50.0 449.4,49.8 450.9,51.0 450.9,52.3 449.6,53.3 447.9,53.5 446.6,53.0 446.1,52.5Z"/></clipPath>
<g clip-path="url(#cbb)"><path d="M276.5,110.8 L277.4,110.5 L285.2,108.4 L292.4,111.5 L296.6,118.7 L299.6,125.9 L307.9,126.3 L314.1,123.8 L316.1,117.7 L317.1,112.5 L327.4,105.6 L334.6,107.7 L338.7,100.9 L347.0,84.0 L362.4,84.4 L368.6,79.7 L374.8,80.2 L379.6,77.8 L385.6,68.2 L393.9,61.1 L398.7,49.2 L405.9,45.6 L408.2,48.0 L411.8,44.4 L414.2,45.6 L420.2,38.4 L424.9,34.8 L427.3,28.9 L434.5,25.3 L440.5,22.9 L441.7,19.3 L434.5,16.9 L429.7,11.4 M441.7,19.3 L442.9,18.1 L448.8,15.7 L458.4,14.6 L467.9,11.5 M374.8,80.7 L370.1,86.2 L368.9,94.5 L369.6,102.9 L373.6,104.5 L377.2,102.9 L383.2,104.1 L386.8,102.9 L389.2,104.1 L386.8,106.4 L390.3,111.2 L396.3,116.0 L404.7,119.6 L408.2,123.2 L418.9,128.2 L428.9,130.2 L438.9,135.2 L446.9,141.2 L452.9,153.2 L455.9,163.2 L456.9,169.2 L460.9,175.2 L463.9,181.2 L466.9,190.2 L469.9,196.2 L468.9,202.2 L472.9,208.2 M433.3,36.0 L434.5,37.2 L433.3,38.4 L432.1,37.2 L433.3,36.0 M276.7,171.5 L286.8,170.9 L301.0,170.7 L298.0,179.6 L293.0,190.7 L289.3,198.1 L287.5,201.8 L288.7,205.5 L291.8,208.8 L296.7,209.0 L304.7,208.8" fill="none" stroke="#0a0a8c" stroke-width="0.50" stroke-opacity="0.80" stroke-linejoin="round"/></g>
<g clip-path="url(#cb)"><line x1="278.3" y1="145.4" x2="473.7" y2="107.8" stroke="#000" stroke-width="1.75"/></g>
<path d="M373.1,110.8h5.4M375.8,108.1v5.4" stroke="#111" stroke-width="0.9"/>
<clipPath id="cc"><rect x="34.0" y="288.9" width="199.0" height="199.0"/></clipPath>
<g clip-path="url(#cc)">
<path fill="#3e00e4" fill-rule="evenodd" d="M34.1,289.0 34.1,487.8 189.4,487.8 190.1,485.5 190.9,484.3 190.9,483.8 192.9,480.0 192.9,479.5 194.1,477.0 196.9,473.8 197.9,473.3 199.4,473.0 200.1,472.5 204.4,472.0 207.4,470.8 210.9,469.8 215.4,467.8 218.4,467.3 219.6,466.5 220.1,466.5 223.4,463.8 223.6,463.0 224.6,462.0 228.9,453.3 229.9,452.3 230.9,450.3 230.9,449.5 231.4,448.5 232.9,447.8 232.9,324.3 231.1,324.0 227.1,321.3 224.6,318.5 223.1,316.0 223.1,315.5 221.1,311.0 221.1,310.3 220.1,307.0 220.1,305.8 219.1,303.0 218.9,301.0 217.1,297.3 217.1,293.5 218.1,290.3 217.9,289.0 66.4,289.0 66.4,290.0 66.1,290.3 66.1,294.5 65.9,294.8 65.4,297.3 63.9,299.3 61.9,300.8 61.1,300.8 59.9,301.3 55.9,301.5 55.4,302.0 55.1,303.3 54.4,304.0 53.9,304.0 53.1,304.5 51.6,304.5 50.4,302.5 50.4,301.0 51.9,299.0 51.9,296.5 51.4,295.5 51.4,293.8 51.1,293.5 50.9,291.3 50.4,290.3 50.4,289.0ZM46.9,380.8 49.4,379.8 49.6,380.0 50.6,380.0 51.1,380.5 51.9,382.3 51.9,384.3 50.6,386.0 48.9,386.0 47.1,384.8 46.4,382.5 46.4,381.5ZM63.9,358.8 66.6,359.5 67.1,360.0 68.1,360.3 69.1,361.0 69.6,361.0 73.1,364.0 73.9,366.3 75.9,370.0 75.9,371.5 74.9,372.8 72.1,374.3 70.6,373.0 69.6,371.0 69.6,370.0 69.1,368.3 67.1,366.5 66.6,366.5 65.9,366.0 64.1,364.3 62.9,361.8 63.1,359.8ZM56.4,333.3 57.6,332.0 59.1,331.5 61.6,331.5 63.6,332.3 64.4,332.3 65.4,333.0 66.1,333.0 67.4,334.0 70.4,335.5 71.4,336.5 72.1,336.8 75.1,339.5 79.1,342.5 80.1,343.8 80.1,344.8 79.1,346.3 77.6,347.5 76.6,348.8 75.1,349.8 74.4,349.8 73.4,350.5 71.9,350.8 70.9,351.3 69.9,351.3 68.9,350.8 68.1,350.8 66.9,349.8 65.6,349.3 64.6,348.3 59.4,345.5 58.4,344.5 57.1,341.8 57.1,340.0 56.6,338.8 56.6,337.0 56.4,336.8ZM90.6,325.8 92.1,325.5 93.1,325.0 94.4,325.0 95.9,325.8 97.6,327.8 99.1,332.5 99.9,333.8 100.1,334.8 101.1,336.3 101.1,338.0 101.4,338.3 100.9,341.3 99.9,343.0 98.9,344.0 97.4,344.0 95.1,339.8 93.9,335.8 93.1,334.8 92.1,334.3 90.6,332.8 90.1,331.8 89.9,330.5 89.4,329.8 89.4,327.3ZM58.4,321.3 59.1,320.5 60.4,320.0 63.6,319.8 66.9,321.0 68.1,322.5 67.1,324.0 65.9,324.5 62.6,324.3 60.1,323.5 58.9,322.3ZM50.4,306.5 50.9,307.0 51.4,308.5 51.1,311.8 49.9,314.8 48.9,315.8 47.9,316.3 47.1,315.8 47.1,315.3 46.6,314.5 46.6,310.8 47.4,308.5 48.1,307.3 49.4,306.5Z"/>
<path fill="#0600ff" fill-rule="evenodd" d="M34.1,391.0 34.1,396.8 37.1,396.8 41.6,399.0 42.1,399.0 42.9,398.5 42.9,397.0 42.6,396.5 39.1,392.8 36.4,391.3ZM218.1,406.0 216.4,403.5 210.4,399.5 204.4,393.8 200.9,388.5 196.6,380.3 195.1,378.5 192.9,377.0 190.4,374.3 189.1,371.5 188.6,369.0 188.1,368.3 186.9,363.8 185.9,362.5 183.9,362.5 183.6,362.8 182.6,362.8 181.1,363.3 180.4,363.8 176.6,365.0 175.4,365.0 174.4,365.5 169.1,366.0 168.9,366.3 167.6,366.3 167.4,366.5 166.1,366.5 165.9,366.8 164.6,366.8 162.9,367.3 160.4,367.3 160.1,367.5 158.9,367.5 158.6,367.8 157.6,367.8 157.4,368.0 156.4,368.0 154.9,368.5 152.9,368.5 152.6,368.8 151.6,368.8 150.1,369.3 148.6,369.3 147.6,369.8 146.9,369.8 144.9,370.8 143.1,372.0 141.1,374.0 138.9,378.8 137.6,382.5 134.9,388.0 126.9,398.5 125.4,401.5 124.1,403.3 123.1,406.0 122.1,407.0 121.4,407.3 116.4,407.3 114.4,406.5 113.6,406.5 113.1,406.3 112.1,405.0 112.1,401.8 111.6,401.0 110.6,401.0 109.4,401.5 105.9,404.3 103.6,406.5 103.1,407.5 103.1,408.3 104.1,409.8 104.1,411.5 102.4,414.8 100.1,417.3 97.6,419.0 93.6,421.0 90.1,423.8 87.1,427.0 85.1,428.5 81.6,430.3 80.1,430.5 77.6,431.5 76.9,431.5 73.9,432.8 70.9,433.3 70.6,433.5 68.9,433.5 66.4,434.3 64.4,434.3 64.1,434.5 62.4,434.5 62.1,434.8 57.1,434.8 56.9,434.5 51.9,434.5 51.6,434.3 50.4,434.3 46.4,433.0 43.4,431.5 41.6,429.5 41.6,427.5 40.6,424.3 40.6,421.8 41.4,420.0 41.6,417.3 42.1,415.8 44.4,413.3 46.1,412.0 46.1,411.3 45.4,410.5 42.9,409.3 39.9,408.3 37.1,408.3 35.1,409.0 34.4,409.0 34.1,409.3 34.1,458.3 37.4,459.5 38.4,460.5 39.6,463.0 39.9,465.0 40.1,465.3 40.1,466.8 39.9,467.0 39.6,470.3 38.1,473.5 36.9,474.8 34.6,476.0 34.1,476.0 34.1,484.3 34.6,484.0 36.1,482.0 38.1,480.0 38.6,479.8 41.6,479.8 42.9,480.3 44.6,482.3 44.9,483.8 44.1,486.3 44.1,487.8 84.6,487.8 84.9,485.8 86.1,483.5 88.1,481.5 91.1,479.8 93.9,479.8 96.6,481.3 98.9,482.0 101.1,482.0 104.9,480.8 107.6,479.0 110.4,475.5 111.6,473.3 111.9,469.8 112.6,468.8 114.1,468.0 115.9,467.8 116.1,467.5 121.1,467.5 121.4,467.3 122.9,467.3 124.1,466.8 127.6,466.3 129.6,465.5 130.9,465.5 133.1,464.8 135.1,463.8 137.6,462.0 144.1,459.0 145.9,457.8 148.6,455.3 153.9,451.5 154.9,450.5 156.6,447.8 158.9,445.5 162.1,444.0 165.4,443.3 170.4,441.0 173.9,438.0 180.1,434.8 188.1,433.5 188.9,433.0 190.9,432.5 191.6,432.0 194.1,431.5 197.6,430.0 198.9,429.0 202.6,425.0 203.4,423.5 203.6,422.0 204.6,420.3 205.4,419.5 208.6,419.0 211.4,418.0 214.1,416.3 216.6,413.8 217.9,412.0 218.6,410.5 218.6,409.5 218.9,409.3 218.9,408.3ZM41.1,442.5 42.6,442.3 42.9,442.5 43.6,442.5 44.6,443.3 44.9,443.8 44.9,445.8 44.1,446.8 43.1,447.3 41.6,447.3 40.1,446.0 39.9,445.5 39.9,444.0ZM94.1,297.5 92.6,298.3 91.6,299.3 91.6,302.0 91.9,302.3 91.9,303.0 94.4,305.3 95.9,308.3 97.1,309.3 98.6,309.3 100.6,308.3 100.6,307.0 99.6,304.3 100.1,302.8 100.1,301.8 100.4,301.5 100.4,300.3 99.9,299.3 98.1,297.5 97.1,297.0 95.9,297.0Z"/>
<path fill="#0054ff" fill-rule="evenodd" d="M42.9,411.3 39.6,410.0 36.9,410.0 36.6,410.3 34.1,410.8 34.1,423.8 37.6,423.0 39.9,422.0 40.9,419.8 41.1,414.8 42.1,413.0 43.1,412.0ZM34.1,393.0 34.1,394.8 37.6,394.8 37.1,394.0 35.6,393.3ZM205.4,404.5 203.4,402.3 202.4,401.5 200.1,400.5 197.9,400.3 197.6,400.0 193.6,400.3 193.1,399.8 193.1,394.0 192.1,391.8 191.1,390.3 189.9,389.0 188.6,388.3 182.1,386.3 181.1,385.3 180.6,383.5 179.4,381.5 176.9,379.3 174.9,378.3 174.1,378.3 172.9,377.8 167.9,377.8 167.6,378.0 166.1,378.0 165.9,378.3 163.9,378.5 163.4,378.0 163.6,377.3 164.6,375.8 165.6,373.5 166.1,373.0 167.4,370.3 167.9,369.8 168.1,368.5 164.9,368.8 163.1,369.3 160.9,369.3 160.6,369.5 159.4,369.5 159.1,369.8 158.1,369.8 157.9,370.0 156.9,370.0 155.4,370.5 153.1,370.5 150.6,371.3 149.1,371.3 146.4,372.3 144.6,373.5 142.6,375.5 140.4,380.5 139.1,384.3 136.6,389.0 133.6,393.3 128.4,399.8 125.4,404.8 124.9,406.5 124.4,407.3 122.4,408.8 120.6,408.8 120.4,409.0 115.6,409.0 113.6,408.3 112.9,408.3 110.9,407.0 110.1,405.3 110.1,404.0 109.9,403.8 105.9,407.0 105.6,408.5 106.1,409.3 106.1,410.3 106.4,410.5 106.1,411.8 104.4,415.3 102.6,417.5 101.1,419.0 98.6,420.8 95.4,422.3 93.9,423.3 92.9,424.3 91.6,425.0 88.1,428.5 85.6,430.3 82.1,432.0 80.6,432.3 76.9,433.5 76.1,434.0 71.9,435.3 69.1,435.5 66.6,436.3 62.6,436.5 62.4,436.8 57.4,436.8 58.4,438.5 57.9,439.0 53.1,439.0 52.9,438.8 51.1,438.8 50.9,438.5 48.6,438.3 47.6,437.8 46.9,437.8 46.6,438.0 46.6,439.3 48.1,440.8 48.9,442.3 48.9,443.0 49.1,443.3 49.1,445.8 48.4,448.0 47.6,449.0 45.6,450.5 45.4,451.0 45.4,452.0 45.1,452.3 45.1,455.3 45.6,456.8 45.9,459.3 46.6,461.5 46.6,465.0 45.6,466.3 44.9,466.5 43.1,468.3 42.4,470.0 42.6,473.3 41.9,474.8 41.9,475.5 42.1,475.8 43.9,476.3 45.6,477.3 46.9,478.5 47.9,480.3 47.9,481.5 45.9,485.0 45.4,486.5 45.4,487.8 80.6,487.8 81.1,485.8 82.1,484.8 84.6,483.0 91.1,477.3 93.6,476.0 95.1,476.0 99.1,477.8 101.1,477.8 103.4,476.8 104.4,475.8 107.4,471.0 107.4,470.5 107.9,469.8 107.9,468.8 109.1,466.5 111.1,464.8 113.9,460.3 114.9,459.3 115.9,459.3 116.1,459.5 119.4,460.0 121.4,460.8 123.6,461.0 126.4,462.0 128.1,462.0 128.4,462.3 131.6,462.3 134.4,461.0 136.9,459.3 137.4,459.3 138.4,458.5 142.1,456.8 144.6,454.8 145.9,454.3 148.9,452.3 155.6,447.0 158.4,444.3 159.6,443.8 166.1,438.8 167.1,437.8 168.1,435.8 168.4,434.0 167.9,432.3 165.9,429.3 160.6,424.3 157.1,420.3 155.4,416.3 156.1,416.0 158.9,417.5 160.6,418.0 163.9,421.5 167.6,423.8 171.1,424.8 173.1,424.8 173.4,424.5 174.6,424.5 176.9,423.8 178.6,422.8 180.1,421.3 181.4,419.0 181.9,417.5 181.9,416.0 182.1,415.8 181.9,412.0 180.1,407.8 178.6,405.8 174.4,402.0 173.4,401.8 171.6,400.8 168.1,400.0 167.9,399.8 164.9,399.8 164.6,400.0 163.4,400.0 163.1,400.3 162.1,400.3 160.4,400.8 159.6,401.3 159.1,401.3 156.9,402.8 155.9,403.0 154.4,401.3 152.9,400.5 150.9,400.3 150.6,400.0 150.6,399.3 153.4,394.5 154.6,393.3 156.9,395.5 161.4,397.8 163.1,398.3 164.9,398.3 165.9,398.8 175.1,399.5 176.6,400.0 177.9,401.3 178.9,402.8 181.4,404.3 182.9,404.8 184.1,404.8 184.4,405.0 186.6,405.0 186.9,405.3 186.6,408.5 187.1,410.3 188.4,412.8 190.6,416.0 191.6,419.5 193.4,421.8 195.6,422.8 197.9,422.8 200.6,421.8 202.1,420.5 204.1,417.5 204.9,416.0 205.1,414.8 205.9,413.5 206.4,411.8 206.4,410.8 206.6,410.5 206.6,407.8ZM58.4,454.3 58.9,453.3 60.9,451.5 61.9,451.0 64.1,451.0 66.9,452.0 71.6,453.0 73.9,454.0 75.6,455.5 75.9,456.0 75.9,458.0 75.6,458.5 74.1,459.8 72.4,460.3 70.6,460.3 67.9,459.3 66.6,459.3 66.4,459.0 62.1,458.8 60.1,457.8 58.6,456.3 58.4,455.8ZM104.4,428.8 104.4,429.5 103.9,430.3 99.9,432.5 98.4,433.0 96.4,433.0 95.4,431.8 95.4,429.8 97.4,428.3 100.9,427.3 102.4,427.3 103.4,427.8ZM149.4,410.5 150.6,409.5 152.1,408.8 152.6,408.8 152.9,409.0 152.9,411.0 153.1,411.3 153.4,413.0 153.1,413.3 151.1,411.8 149.9,411.3ZM94.9,299.8 94.4,300.0 93.9,300.8 94.1,301.8 96.6,304.3 97.6,306.0 97.4,305.8 97.4,303.0 97.9,301.8 97.9,300.8 96.6,299.5Z"/>
<path fill="#00a0ff" fill-rule="evenodd" d="M49.1,466.8 48.1,466.8 47.9,466.5 45.9,466.8 44.9,467.3 43.9,468.3 43.1,469.8 43.1,471.8 43.6,473.0 44.9,474.0 47.9,474.0 49.1,473.5 50.9,472.0 51.4,470.5 51.1,470.3 51.1,469.3 50.6,468.0ZM58.1,449.0 57.1,448.3 56.4,448.3 54.6,448.8 51.1,450.8 48.6,453.0 47.9,454.5 47.9,456.0 48.1,456.5 49.1,457.3 50.9,457.3 52.4,456.3 55.4,453.3 57.6,451.5 58.4,450.0ZM34.1,412.3 34.1,422.5 36.6,422.3 39.1,421.5 39.9,420.8 40.4,419.5 40.4,416.0 39.4,413.5 37.6,412.5ZM151.4,404.3 150.6,404.0 150.4,404.3 145.9,404.5 145.6,404.8 141.1,405.3 140.9,405.5 138.9,405.8 137.1,406.5 136.4,406.5 134.6,407.3 133.9,407.3 130.9,408.8 122.6,411.3 119.4,413.0 116.4,416.0 114.9,419.0 114.9,420.0 116.1,419.3 119.9,418.0 124.6,417.8 126.9,418.8 128.9,420.8 129.9,422.8 129.9,425.8 129.6,426.0 129.6,427.0 128.6,429.3 125.6,431.8 124.9,432.0 121.6,432.0 121.4,431.8 120.6,431.8 117.9,430.3 116.6,428.8 115.4,426.3 114.9,424.5 114.6,422.0 114.4,421.5 114.1,421.5 112.6,424.0 111.9,429.5 111.1,430.3 106.9,430.3 106.6,430.5 105.4,430.5 103.1,431.3 100.6,432.8 97.6,433.8 95.9,433.8 94.1,432.8 93.1,432.8 92.9,432.5 90.6,432.5 90.1,433.0 87.6,433.5 84.4,435.8 79.6,440.8 77.6,443.5 77.6,444.0 76.6,446.0 76.6,447.3 76.1,448.5 76.1,451.5 77.1,454.8 77.4,457.3 76.1,459.8 74.6,461.0 70.9,462.8 70.4,462.8 68.4,464.0 67.9,464.0 65.4,465.3 63.9,466.8 63.6,467.5 62.6,468.8 60.6,469.8 59.4,470.8 58.9,470.8 57.4,471.5 56.1,472.5 53.9,473.5 52.9,474.3 50.4,477.3 48.9,481.8 46.6,485.5 46.1,487.8 78.4,487.8 78.6,486.5 79.9,485.3 84.1,482.3 90.9,476.5 94.6,474.5 102.4,468.5 106.6,464.3 109.4,461.0 110.4,459.3 111.4,456.5 112.6,455.3 114.4,455.3 116.4,456.0 119.9,456.5 121.6,457.3 125.9,458.0 127.4,458.8 128.6,458.8 129.6,459.3 131.4,459.3 133.9,458.0 136.9,457.8 139.1,456.8 140.9,455.5 144.4,451.8 145.9,451.0 151.1,446.3 154.1,444.3 155.6,442.8 159.4,440.0 161.4,438.0 162.1,437.8 164.4,435.8 164.9,434.8 164.9,434.3 163.9,432.5 159.6,428.3 158.9,427.0 156.6,424.5 155.6,422.8 153.6,420.5 152.4,418.0 149.9,415.5 143.1,412.0 142.6,411.3 142.6,410.5 143.9,409.3 146.9,407.3 151.1,405.0ZM114.6,440.3 115.9,441.3 116.6,442.8 116.9,446.5 115.6,448.0 113.4,448.8 112.4,448.8 110.1,446.8 109.6,445.5 109.4,443.0 109.9,441.8 111.4,440.8 112.6,440.3ZM193.1,404.0 191.9,404.5 190.6,405.8 190.6,406.5 190.4,406.8 190.6,409.0 191.6,411.0 194.1,414.8 194.4,416.5 195.1,418.3 196.4,419.3 197.6,419.3 199.1,418.8 200.4,417.5 201.9,414.5 202.9,411.5 203.1,408.5 202.6,406.8 200.9,404.8 198.6,403.8 194.4,403.8 194.1,404.0ZM157.1,407.5 156.6,408.5 156.6,410.5 157.9,412.5 159.9,414.0 162.1,415.0 164.4,417.5 166.6,419.5 169.9,421.0 172.1,421.3 172.4,421.0 173.9,421.0 174.6,420.5 175.9,420.3 176.6,419.8 177.4,418.8 178.4,416.5 178.4,413.5 177.9,411.8 176.4,409.0 174.1,406.5 171.9,404.8 170.4,404.0 165.9,403.3 165.6,403.5 164.6,403.5 161.1,404.5 158.9,405.8ZM157.6,386.3 157.4,388.0 157.1,388.3 157.4,388.5 157.4,389.8 158.1,391.5 159.9,393.0 162.9,394.3 165.4,394.5 166.6,395.0 175.6,395.8 177.9,396.5 179.4,397.8 179.9,399.0 181.4,400.8 183.4,401.8 186.4,401.8 188.9,400.5 189.9,398.8 189.9,398.0 190.1,397.8 190.1,394.3 188.9,391.8 187.9,390.8 185.4,389.8 181.9,390.0 179.6,389.0 178.4,388.0 176.9,384.3 174.9,382.3 173.9,381.8 172.1,381.3 168.6,381.3 168.4,381.5 166.6,381.5 165.4,382.0 162.4,382.5 159.6,383.8 158.1,385.3Z"/>
<path fill="#00e0ff" fill-rule="evenodd" d="M45.6,467.3 44.1,468.5 43.4,470.3 43.6,471.8 44.1,472.8 44.9,473.3 45.6,473.3 45.9,473.5 47.9,473.3 49.9,471.8 50.4,470.8 50.1,469.0 49.9,468.5 48.4,467.3ZM121.9,433.3 120.4,432.3 117.9,431.5 114.9,431.8 114.6,432.0 111.6,432.0 111.4,431.8 109.1,431.8 108.9,431.5 106.4,431.5 106.1,431.8 104.6,431.8 104.4,432.0 102.4,432.3 100.6,433.3 98.6,433.8 97.9,434.5 97.9,436.0 98.4,436.8 99.9,437.3 100.4,438.0 97.6,443.8 96.4,445.8 96.4,446.3 95.4,448.3 89.6,454.3 86.1,457.3 80.9,460.3 76.1,463.8 71.6,466.5 70.9,467.3 66.4,469.8 63.4,472.0 58.4,474.8 56.4,476.3 51.9,481.0 48.9,486.3 48.6,487.8 70.4,487.8 71.1,487.3 72.6,487.0 76.1,485.3 77.4,484.3 80.1,483.0 85.1,478.5 91.4,475.3 96.9,470.5 100.9,466.5 109.1,459.0 110.9,455.3 111.1,453.5 112.1,450.5 112.1,449.8 109.6,447.0 109.1,445.3 109.1,442.3 109.4,441.8 112.1,439.5 112.1,438.8 111.1,437.5 111.1,437.0 111.4,436.8 115.4,437.0 120.6,435.3 121.6,434.3ZM151.9,419.5 149.4,419.3 149.1,419.5 148.4,419.5 147.1,420.3 145.9,420.3 142.9,418.8 141.6,418.5 140.9,418.0 136.1,416.3 134.9,416.3 134.6,416.0 130.6,415.5 130.4,415.3 129.1,415.3 127.4,416.5 127.1,417.5 127.6,418.5 129.6,420.3 130.9,420.8 133.6,421.3 134.6,421.8 135.4,421.8 137.4,422.8 138.6,423.0 142.4,424.8 143.4,425.8 143.1,426.5 142.4,427.0 141.6,427.0 140.6,427.5 139.9,427.5 137.6,428.3 134.1,428.3 131.4,429.5 129.4,431.0 127.9,432.8 125.4,437.3 124.6,439.8 124.6,441.0 124.4,441.3 124.4,448.0 124.6,448.3 124.6,449.3 125.1,451.0 127.1,454.8 129.9,457.3 131.6,458.0 133.9,457.3 136.9,457.0 139.1,456.0 140.1,455.3 143.9,451.3 144.9,450.8 146.1,449.5 147.4,445.8 147.4,442.5 148.4,441.3 152.1,439.3 153.1,438.5 154.6,436.8 156.9,430.3 156.9,429.5 157.4,428.3 157.4,427.0 155.1,423.3ZM34.1,415.0 34.1,420.8 36.6,421.0 37.9,420.5 38.9,419.3 38.9,418.5 39.1,418.3 38.6,416.3 37.6,415.3 36.4,414.8ZM164.9,405.5 163.4,406.5 162.1,407.8 161.4,409.5 161.4,412.3 161.6,412.5 161.6,413.3 161.9,413.8 163.9,415.5 165.1,417.3 166.6,418.5 168.9,419.5 171.1,419.3 172.4,418.5 173.9,417.0 174.6,415.3 174.6,411.8 173.1,408.5 170.6,406.0 168.9,405.3 165.6,405.3ZM184.6,391.3 182.9,391.8 181.1,393.3 180.6,394.3 180.6,396.5 181.1,398.0 182.4,399.5 184.1,400.3 185.4,400.3 186.6,399.8 188.1,398.3 188.6,397.0 188.6,394.5 188.1,393.3 186.9,392.0ZM164.1,389.0 164.1,390.3 165.4,391.5 167.1,392.0 170.1,391.8 171.9,390.3 171.9,389.0 171.1,388.0 170.4,387.5 168.4,387.3 168.1,387.0 165.6,387.5 164.9,388.0Z"/>
<path fill="#00ffd0" fill-rule="evenodd" d="M45.9,467.8 44.6,468.8 44.1,469.8 44.1,471.0 44.6,472.0 45.4,472.5 47.6,472.5 48.4,472.0 49.1,471.0 49.1,469.0 48.1,468.0ZM109.9,439.3 108.9,438.3 106.4,437.3 104.4,437.5 103.4,438.0 102.1,439.3 101.1,441.3 101.1,441.8 99.9,444.3 99.4,444.8 97.1,449.5 91.9,455.3 87.1,459.3 81.4,462.5 70.6,470.0 65.6,472.8 60.4,476.3 59.1,476.8 53.4,482.5 50.6,487.8 64.4,487.8 65.1,486.8 66.1,486.3 71.6,485.0 79.1,481.3 83.6,477.0 90.1,473.8 106.6,458.8 108.1,457.0 108.9,455.5 109.1,453.3 109.4,453.0 109.4,452.0 109.9,450.5 109.9,448.3 109.4,447.5 109.1,445.5 108.9,445.3 108.9,442.0 110.1,440.3ZM152.9,421.8 150.6,421.3 150.4,421.5 149.4,421.5 147.4,422.8 144.4,422.3 144.1,423.0 145.9,424.8 145.9,426.0 144.4,428.5 138.9,430.3 135.6,430.3 135.4,430.5 134.4,430.5 131.6,432.0 129.1,434.8 127.9,437.0 126.9,439.8 126.6,442.5 126.4,442.8 126.4,446.5 126.6,446.8 126.9,449.3 127.9,451.3 127.9,451.8 128.4,452.3 128.9,453.5 131.6,456.0 132.6,456.5 135.1,456.5 135.4,456.3 136.6,456.3 138.1,455.8 139.4,455.0 143.6,450.5 144.9,447.5 144.9,446.5 145.1,446.3 145.1,445.0 145.4,444.8 145.4,440.8 146.1,440.0 151.1,437.3 152.6,435.8 154.1,431.8 154.1,431.0 154.9,428.8 155.4,428.0 155.4,427.0 155.6,426.8 155.4,425.0 154.1,423.0ZM35.6,416.8 34.9,417.3 34.6,418.3 35.6,419.3 36.4,419.3 37.1,418.5 37.1,417.5 36.9,417.0ZM165.9,407.3 164.1,408.8 163.6,409.8 163.6,410.8 163.4,411.0 163.6,413.3 164.6,415.3 166.9,417.3 168.6,417.8 170.1,417.5 171.9,416.0 172.4,415.0 172.6,412.8 171.9,410.3 169.6,407.8 167.4,407.0Z"/>
<path fill="#00ff84" fill-rule="evenodd" d="M47.4,468.8 46.6,468.5 45.4,469.0 45.1,469.5 45.1,470.8 45.9,471.5 47.1,471.5 47.9,471.0 48.1,469.5ZM108.6,439.8 107.1,438.8 104.9,438.8 103.9,439.3 102.9,440.5 100.6,445.0 99.6,446.3 97.9,450.3 92.6,456.0 88.1,459.8 83.6,462.3 70.9,471.0 67.1,473.0 59.1,478.3 54.1,483.0 51.6,487.8 62.9,487.8 64.6,485.8 65.6,485.3 71.6,484.0 77.6,481.0 79.1,480.0 83.4,476.0 88.6,473.5 90.1,472.5 97.1,466.3 102.1,461.3 104.4,459.5 107.6,456.0 108.1,454.5 108.6,451.0 108.9,450.8 108.9,449.5 109.1,449.3 108.9,445.5 108.6,445.3 108.6,441.8 108.9,441.5 108.9,440.3ZM153.1,423.3 152.1,422.8 149.9,422.8 148.9,423.3 147.9,424.5 145.9,428.5 144.9,429.5 138.4,431.8 137.9,431.5 135.4,431.5 133.9,432.0 132.6,432.8 130.1,435.3 128.6,438.0 128.1,439.5 128.1,440.3 127.6,441.5 127.4,445.0 127.6,445.3 127.6,447.5 128.6,450.8 129.6,452.5 131.6,454.5 133.6,455.5 134.9,455.5 135.1,455.8 135.4,455.5 136.9,455.5 139.6,454.0 141.4,452.3 143.1,449.3 143.9,447.0 144.1,444.3 144.4,444.0 144.4,441.3 144.1,441.0 144.4,440.0 145.1,439.3 150.9,436.3 152.1,434.5 154.4,426.8 154.1,424.5ZM165.9,408.5 164.6,410.3 164.6,413.0 165.4,414.5 166.9,416.0 167.9,416.5 170.1,416.3 171.4,414.5 171.4,411.8 170.6,410.3 169.1,408.8 168.1,408.3Z"/>
<path fill="#00ff40" fill-rule="evenodd" d="M46.1,469.5 45.9,470.3 46.4,470.8 46.9,470.8 47.4,470.0 46.9,469.5ZM108.1,440.8 107.1,439.8 106.4,439.8 106.1,439.5 104.9,439.8 102.1,443.0 99.9,446.8 98.4,450.3 94.9,454.5 92.9,456.5 90.1,458.5 88.9,459.8 82.9,463.3 71.4,471.3 66.4,474.0 65.6,474.8 59.1,479.0 54.6,483.0 52.1,487.8 62.4,487.8 63.1,486.5 64.4,485.3 65.4,484.8 71.6,483.5 77.6,480.5 80.1,478.5 82.6,476.0 88.6,473.0 90.9,471.3 92.6,469.5 94.6,468.0 100.1,462.3 105.4,458.0 107.1,456.0 107.6,454.8 107.6,453.8 107.9,453.5 107.9,452.5 108.1,452.3 108.1,451.3 108.6,449.8 108.6,445.8 108.4,445.5 108.4,443.5 108.1,443.3ZM152.1,423.8 151.4,423.8 151.1,423.5 149.9,423.8 148.6,425.0 146.1,429.0 145.1,430.0 140.4,431.8 139.1,432.5 135.4,432.3 133.9,432.8 132.6,433.5 130.9,435.3 129.1,438.3 128.1,441.8 128.1,447.0 128.4,447.3 128.4,448.3 128.9,449.8 129.9,451.8 131.4,453.5 132.9,454.5 134.6,455.0 135.9,455.0 137.6,454.5 139.6,453.3 141.9,450.5 142.6,449.0 143.6,445.5 143.6,443.8 143.9,443.5 143.6,439.5 144.1,439.0 150.4,436.0 151.6,434.5 152.9,430.0 153.1,427.3 153.4,427.0 153.4,425.3ZM167.1,408.8 165.6,409.5 165.1,410.5 165.1,412.8 166.4,415.0 167.6,415.8 168.9,416.0 170.4,415.3 170.9,414.3 170.9,412.0 169.6,409.8 168.4,409.0Z"/>
<path fill="#00ff00" fill-rule="evenodd" d="M107.6,443.0 106.4,441.8 105.6,441.5 103.6,442.3 102.4,443.5 101.1,445.8 100.4,446.5 99.6,448.0 99.6,448.5 98.1,451.3 93.4,456.8 92.4,457.3 89.1,460.0 83.1,463.5 71.6,471.5 67.9,473.5 62.1,477.5 61.1,478.5 57.9,480.5 54.9,483.3 52.6,487.3 52.6,487.8 61.9,487.8 62.6,486.5 64.6,484.5 71.1,483.3 78.1,479.8 82.4,475.8 89.1,472.3 94.4,467.8 99.9,461.8 105.4,457.5 106.9,455.8 107.4,454.3 108.1,449.5 108.4,449.3 108.4,448.5 108.1,448.3 108.1,444.5ZM151.1,425.8 149.9,425.8 148.9,426.3 147.6,427.5 146.6,429.3 145.6,430.3 141.1,432.3 139.9,433.3 138.4,433.3 136.9,432.8 134.9,433.0 132.6,434.3 131.1,435.8 129.9,437.8 128.9,440.5 128.4,445.0 128.6,445.3 128.6,447.3 129.6,450.3 130.4,451.5 132.4,453.5 134.1,454.3 136.6,454.3 138.4,453.5 139.4,452.8 141.1,450.8 141.9,449.5 143.1,445.8 143.1,444.3 143.4,444.0 143.1,438.8 149.6,436.0 150.9,435.0 151.4,434.0 151.9,432.3 151.9,431.3 152.1,431.0 152.4,427.8 151.9,426.5ZM166.6,409.5 165.6,410.8 165.6,412.8 165.9,413.5 167.1,415.0 167.6,415.3 169.4,415.3 170.4,414.0 170.4,412.0 170.1,411.3 168.9,409.8 168.4,409.5Z"/>
<path fill="#0cff00" fill-rule="evenodd" d="M107.4,444.0 106.6,443.3 105.4,442.8 104.4,442.8 103.4,443.3 100.6,446.8 98.4,451.5 96.4,453.8 95.1,455.8 93.9,457.0 92.1,458.0 87.9,461.3 83.4,463.8 76.6,468.3 71.9,471.8 67.4,474.3 63.6,477.0 61.1,479.3 59.4,480.0 57.1,481.5 55.4,483.0 53.1,486.8 52.9,487.8 61.4,487.8 64.4,484.0 70.9,483.0 77.9,479.5 82.9,475.0 88.9,472.0 93.9,467.8 96.1,465.5 99.6,461.3 104.9,457.5 106.6,455.5 107.1,453.8 107.1,452.8 107.6,451.5 107.6,450.5 107.9,450.3 107.9,446.0 107.6,445.8ZM150.1,427.5 148.6,427.8 146.1,430.5 142.4,432.5 140.4,434.8 137.6,433.5 135.4,433.5 132.9,434.8 131.4,436.3 129.6,439.5 129.6,440.3 129.1,441.3 128.9,445.8 129.1,446.0 129.1,447.3 129.6,449.0 130.6,451.0 132.4,452.8 133.1,453.3 134.9,453.8 136.9,453.5 139.1,452.3 140.9,450.3 142.1,447.8 142.6,446.0 142.6,445.0 142.9,444.8 142.9,441.0 142.4,439.3 142.4,437.8 143.1,437.3 144.9,437.3 149.6,435.5 150.9,434.3 151.6,429.8 151.4,429.5 151.4,428.5ZM167.4,410.0 166.1,411.0 166.1,412.8 167.1,414.3 168.6,414.8 169.9,413.8 169.9,412.0 168.9,410.5Z"/>
<path fill="#28ff00" fill-rule="evenodd" d="M107.1,445.0 105.6,443.8 103.9,443.8 103.4,444.0 100.9,447.0 99.1,451.0 94.6,457.3 93.4,457.8 88.9,461.0 83.6,464.0 76.1,469.0 72.1,472.0 66.9,475.0 65.9,476.0 64.6,476.8 61.6,480.0 59.6,480.5 56.6,482.3 54.9,484.3 53.1,487.8 61.1,487.8 61.4,487.0 64.1,483.3 66.9,483.3 67.1,483.0 68.6,483.0 68.9,482.8 71.1,482.5 77.6,479.3 82.6,474.8 88.6,471.8 93.4,467.8 95.6,465.5 98.1,462.0 99.6,460.5 102.6,458.8 106.1,455.8 106.9,453.5 107.4,450.3 107.6,450.0 107.6,447.5 107.4,447.3ZM136.9,434.0 134.9,434.3 133.4,435.0 131.6,436.8 130.1,439.5 129.6,441.0 129.6,442.0 129.4,442.3 129.4,446.3 129.6,446.5 129.6,447.5 130.1,449.0 131.1,450.8 132.6,452.3 134.1,453.0 136.6,453.0 138.6,452.0 140.6,449.8 141.6,447.8 142.1,446.3 142.1,445.3 142.4,445.0 142.4,440.5 141.6,438.0 140.9,436.5 139.4,435.0ZM150.1,429.3 149.6,429.0 148.1,429.3 146.4,431.0 143.6,432.8 142.9,434.3 143.1,434.5 143.1,435.3 143.9,436.0 145.6,436.3 145.9,436.0 147.9,435.8 149.6,435.0 150.6,433.8 150.6,432.3 150.9,432.0 150.6,430.0ZM167.6,411.0 167.1,411.3 166.9,412.3 167.1,413.0 168.4,413.8 168.9,413.5 169.1,412.5 168.9,411.8Z"/>
<path fill="#b4ff00" fill-rule="evenodd" d="M62.6,482.3 60.9,481.0 59.9,481.0 57.6,482.0 55.9,483.3 53.4,487.8 60.6,487.8 62.6,484.5 62.9,483.8ZM106.6,445.5 105.9,444.8 105.1,444.5 103.9,444.5 103.4,444.8 100.9,447.5 100.6,448.5 98.9,452.0 97.1,454.3 96.1,456.3 96.1,456.8 95.4,457.8 93.1,458.5 89.1,461.3 84.6,463.8 71.9,472.5 67.1,475.3 63.6,478.5 63.1,479.5 63.1,481.3 63.9,482.3 65.6,482.8 70.9,482.3 75.6,479.8 76.6,479.5 78.4,478.3 82.4,474.5 87.6,472.0 89.4,470.8 95.1,465.5 97.1,462.8 98.4,460.3 101.9,458.8 104.4,457.0 105.9,455.5 106.4,454.3 107.1,450.0 107.4,449.8 107.4,448.3 107.1,448.0 107.1,447.0ZM137.4,434.8 135.4,434.8 133.6,435.5 131.6,437.5 130.4,440.0 130.4,440.8 129.9,442.0 129.9,446.5 130.6,449.0 131.4,450.3 132.9,451.8 134.6,452.5 136.1,452.5 138.4,451.5 140.4,449.3 141.4,447.3 141.9,445.5 142.1,442.0 141.9,441.8 141.9,440.3 141.4,438.8 140.1,436.5 138.6,435.3ZM149.1,430.5 148.1,430.5 145.6,432.3 145.1,433.0 145.1,434.3 145.9,435.0 148.1,435.0 149.4,434.5 150.1,433.5 150.1,431.8Z"/>
<path fill="#ffe000" fill-rule="evenodd" d="M61.9,483.0 60.4,481.8 59.4,481.8 57.9,482.3 55.9,483.8 54.4,486.3 53.9,487.8 60.4,487.8 61.9,485.0 61.9,484.3 62.1,484.0ZM96.6,459.8 95.6,459.0 93.6,459.0 90.6,460.5 89.4,461.5 84.9,464.0 71.4,473.3 67.4,475.5 64.4,478.8 64.1,480.0 64.6,481.3 65.9,482.0 70.4,482.0 77.1,478.8 82.1,474.3 87.4,471.8 92.6,467.5 94.6,465.5 95.9,463.8 96.9,461.5 96.9,460.3ZM105.9,445.8 104.6,445.3 103.4,445.5 102.6,446.0 101.1,447.8 100.9,448.8 99.9,450.5 99.9,451.0 97.9,454.0 96.9,456.5 96.9,457.3 97.9,458.8 98.4,459.0 100.6,458.8 104.1,456.8 105.6,455.3 106.4,452.8 106.6,450.8 106.9,450.5 106.9,449.5 107.1,449.3 106.6,447.0ZM136.9,435.3 135.9,435.3 133.9,436.0 131.9,438.0 130.9,440.0 130.4,441.8 130.4,443.0 130.1,443.3 130.1,445.3 130.4,445.5 130.4,446.8 130.9,448.3 131.9,450.0 132.9,451.0 134.4,451.8 136.6,451.8 138.1,451.0 140.1,448.8 141.4,445.8 141.4,444.8 141.6,444.5 141.6,441.5 140.4,437.8 139.1,436.3 137.9,435.5 137.1,435.5ZM147.9,431.8 147.1,432.3 146.9,433.3 147.1,433.8 147.6,434.0 148.6,434.0 149.4,433.3 149.4,432.5 149.1,432.0Z"/>
<path fill="#ff9400" fill-rule="evenodd" d="M61.1,483.5 59.9,482.5 58.6,482.5 56.9,483.3 55.9,484.3 54.1,487.8 59.9,487.8 61.1,485.5 61.1,484.8 61.4,484.5ZM95.6,461.0 94.4,460.0 93.1,460.0 90.6,461.0 84.4,464.8 74.4,471.5 73.6,472.3 67.1,476.3 65.4,478.8 65.4,480.0 65.6,480.5 67.1,481.5 70.6,481.5 76.9,478.5 82.1,473.8 87.9,471.0 92.6,467.0 94.6,464.8 95.6,462.8ZM104.6,446.0 103.1,446.3 101.9,447.3 100.4,450.3 100.4,450.8 98.4,454.3 98.1,456.8 98.6,457.5 99.6,458.0 101.4,457.8 103.4,456.8 105.1,455.3 105.6,454.3 106.1,451.3 106.6,450.0 106.6,448.3 106.1,447.0ZM137.4,436.0 135.4,436.0 134.1,436.5 131.9,439.0 130.6,442.8 130.6,445.5 130.9,445.8 130.9,446.8 131.4,448.3 132.1,449.5 133.1,450.5 134.9,451.3 136.9,451.0 137.9,450.5 139.4,449.0 140.4,447.3 141.1,444.8 141.1,441.3 140.6,439.5 139.9,438.0 138.4,436.5Z"/>
<path fill="#ff4c00" fill-rule="evenodd" d="M60.4,484.0 59.6,483.3 57.6,483.3 57.1,483.5 56.1,484.5 54.6,487.8 59.6,487.8 59.6,487.3 60.1,486.8 60.6,485.5ZM94.4,461.8 93.4,461.0 91.4,461.3 85.1,464.8 79.9,468.5 67.9,476.3 66.6,478.0 66.6,479.8 67.6,480.8 69.6,481.3 76.1,478.5 78.6,476.5 81.4,473.8 87.1,471.0 92.9,466.3 94.4,464.0 94.4,463.3 94.6,463.0ZM104.9,446.8 103.1,446.8 102.4,447.3 101.9,448.0 99.1,454.3 99.1,455.8 99.6,456.5 100.9,457.0 101.1,456.8 102.1,456.8 104.1,455.8 104.9,455.0 105.4,453.8 105.4,452.8 105.6,452.5 105.6,451.8 106.1,450.5 106.1,449.3 106.4,449.0 105.9,447.5ZM135.1,436.8 134.1,437.3 132.6,438.8 131.6,440.8 131.4,442.5 131.1,442.8 131.1,445.5 131.9,448.0 133.6,450.0 134.6,450.5 136.4,450.5 137.9,449.8 139.1,448.5 140.1,446.5 140.6,444.8 140.6,441.3 139.4,438.3 138.4,437.3 137.4,436.8Z"/>
<path fill="#ff0000" fill-rule="evenodd" d="M59.9,484.5 59.1,483.8 57.6,483.8 56.6,484.5 55.1,487.8 58.9,487.8 60.1,485.5ZM93.4,462.8 92.4,462.0 91.1,462.0 84.4,465.8 78.6,470.0 77.1,470.8 68.1,476.8 67.4,478.0 67.4,479.3 67.9,480.0 68.6,480.5 70.4,480.5 76.1,478.0 81.1,473.3 87.1,470.5 92.4,466.0 93.4,464.8 93.4,464.0 93.6,463.8ZM104.6,447.3 103.4,447.3 102.6,447.8 100.9,451.3 100.9,451.8 100.1,453.3 100.1,454.8 100.4,455.3 101.9,456.0 102.1,455.8 103.1,455.8 104.6,454.5 104.9,452.8 105.6,450.5 105.6,448.3 105.4,447.8ZM135.1,437.5 133.9,438.3 132.4,440.3 131.6,442.8 131.6,445.3 131.9,445.5 131.9,446.5 133.4,449.0 134.9,449.8 136.4,449.8 137.4,449.3 139.4,447.0 140.1,444.8 140.1,441.5 139.1,439.0 137.9,437.8 137.4,437.5Z"/>
</g>
<path d="M34.0,388.3 L34.9,388.0 L42.7,385.9 L49.9,389.0 L54.1,396.2 L57.1,403.4 L65.4,403.8 L71.6,401.3 L73.6,395.2 L74.6,390.0 L84.9,383.1 L92.1,385.2 L96.2,378.4 L104.5,361.5 L119.9,361.9 L126.1,357.2 L132.3,357.7 L137.1,355.3 L143.1,345.7 L151.4,338.6 L156.2,326.7 L163.4,323.1 L165.7,325.5 L169.3,321.9 L171.7,323.1 L177.7,315.9 L182.4,312.3 L184.8,306.4 L192.0,302.8 L198.0,300.4 L199.2,296.8 L192.0,294.4 L187.2,288.9 M199.2,296.8 L200.4,295.6 L206.3,293.2 L215.9,292.1 L225.4,289.0 M132.3,358.2 L127.6,363.7 L126.4,372.0 L127.1,380.4 L131.1,382.0 L134.7,380.4 L140.7,381.6 L144.3,380.4 L146.7,381.6 L144.3,383.9 L147.8,388.7 L153.8,393.5 L162.2,397.1 L165.7,400.7 L176.4,405.7 L186.4,407.7 L196.4,412.7 L204.4,418.7 L210.4,430.7 L213.4,440.7 L214.4,446.7 L218.4,452.7 L221.4,458.7 L224.4,467.7 L227.4,473.7 L226.4,479.7 L230.4,485.7 M190.8,313.5 L192.0,314.7 L190.8,315.9 L189.6,314.7 L190.8,313.5 M34.2,449.0 L44.3,448.4 L58.5,448.2 L55.5,457.1 L50.5,468.2 L46.8,475.6 L45.0,479.3 L46.2,483.0 L49.3,486.3 L54.2,486.5 L62.2,486.3" fill="none" stroke="#14086a" stroke-width="0.55" stroke-opacity="0.90" stroke-linejoin="round"/>
<g clip-path="url(#cc)"><line x1="35.6" y1="424.2" x2="231.0" y2="387.0" stroke="#000" stroke-width="1.75"/></g>
<path d="M130.6,388.3h5.4M133.3,385.6v5.4" stroke="#111" stroke-width="0.9"/>
<clipPath id="cd"><rect x="277.0" y="289.0" width="199.4" height="199.3"/></clipPath>
<g clip-path="url(#cd)">
<path fill="#5e00a0" fill-rule="evenodd" d="M289.6,317.1 287.9,319.6 287.1,321.6 287.1,324.6 287.4,324.9 287.9,327.6 289.1,330.6 289.4,332.1 290.9,334.4 291.4,335.6 293.6,338.1 296.4,343.1 298.4,345.4 301.4,348.1 301.9,348.1 302.6,348.9 304.6,349.4 305.4,350.1 305.1,350.4 302.9,350.1 298.4,347.9 295.1,347.6 292.9,348.6 292.4,349.1 291.4,349.4 288.1,351.6 287.6,351.1 287.4,349.9 286.9,349.1 286.6,347.4 284.4,340.6 283.1,338.9 282.6,337.6 281.1,336.1 279.1,335.1 277.1,335.1 277.1,452.1 282.6,458.4 287.9,463.6 295.9,470.6 301.1,474.6 307.4,478.9 313.6,482.6 315.9,483.6 316.4,484.1 324.6,488.1 352.9,488.1 356.6,485.9 360.9,481.9 363.9,479.6 369.1,476.6 370.1,475.6 370.6,475.6 372.1,474.6 375.1,473.4 375.6,472.9 376.4,472.9 377.9,472.4 378.9,471.6 380.4,471.4 384.6,469.1 385.6,468.9 386.9,467.9 394.9,464.1 397.9,463.1 398.6,463.1 401.1,462.1 408.1,461.6 409.1,461.1 412.4,460.4 414.1,459.4 417.6,455.6 417.9,454.9 420.1,452.9 421.1,452.9 421.4,452.6 422.1,452.6 422.4,452.9 426.1,452.9 429.4,451.6 431.1,451.6 432.1,452.1 433.9,452.1 434.1,452.4 439.4,452.6 439.6,452.4 442.9,452.4 444.4,451.6 445.6,451.4 449.1,448.6 451.6,446.1 453.1,443.4 453.1,440.9 452.4,438.6 449.9,434.9 450.6,434.1 452.1,433.4 456.1,429.9 456.6,429.9 457.9,429.1 459.6,429.1 462.1,428.4 464.4,426.4 464.9,425.4 470.4,419.9 471.6,417.6 473.4,415.4 474.6,414.4 475.4,413.4 476.4,413.1 476.4,328.4 474.4,327.4 473.6,326.1 472.6,325.1 471.6,324.9 470.6,324.1 469.1,323.9 467.9,323.1 461.6,321.4 459.9,320.1 458.1,319.4 454.6,316.6 452.9,315.9 451.6,314.9 448.6,313.6 447.9,313.6 444.6,312.6 441.1,312.6 440.1,313.1 438.6,313.4 436.6,314.6 433.6,315.1 432.4,315.6 428.1,315.6 426.9,314.6 426.9,314.1 426.1,312.9 426.1,312.1 424.6,306.9 423.9,305.4 423.1,304.6 421.9,304.1 420.6,304.1 417.1,305.4 416.1,305.4 414.4,304.9 413.6,304.4 414.9,303.1 415.4,301.4 415.1,300.6 413.9,299.4 411.9,298.6 411.1,297.9 411.1,297.1 411.6,296.6 412.1,295.4 412.1,293.4 411.4,291.4 411.1,289.1 327.1,289.1 326.6,289.9 323.9,291.4 321.4,293.4 320.1,294.9 312.4,302.4 310.4,306.1 310.1,307.4 309.4,308.6 308.1,307.6 305.4,306.6 302.4,306.4 300.9,306.9 299.4,307.9 298.4,308.1ZM468.9,354.1 469.1,354.4 468.9,355.9 468.4,356.4 467.4,356.6 467.1,356.4 467.1,355.1 468.4,354.1ZM406.9,314.9 407.4,315.1 407.6,316.4 408.6,318.6 408.6,320.6 407.4,321.9 406.4,321.9 405.4,320.9 405.1,320.4 405.1,319.1 404.9,318.9 405.1,316.4 405.9,315.4Z"/>
<path fill="#0000ff" fill-rule="evenodd" d="M294.6,372.6 294.9,373.1 295.9,373.1 296.1,372.9 295.9,372.4 294.9,372.4ZM320.1,323.6 319.9,323.9 319.9,329.6 320.6,331.9 321.4,332.4 322.6,330.1 322.6,326.9 321.9,324.6 320.9,323.6ZM319.1,315.4 318.4,315.4 319.1,316.4 319.1,318.1 318.9,318.6 317.6,319.4 315.9,319.1 316.4,319.6 318.4,319.6 320.1,318.9 320.1,316.6ZM394.4,289.1 329.1,289.1 329.1,289.6 328.1,291.4 324.9,293.6 322.4,295.9 321.1,297.4 320.9,299.1 321.1,299.4 321.4,301.1 321.9,302.1 324.6,304.6 326.4,305.6 328.6,307.9 333.1,311.1 340.9,314.9 341.6,314.9 342.9,315.4 346.4,317.9 348.4,319.9 350.4,322.6 352.4,326.6 352.6,327.9 353.6,329.9 353.9,331.4 355.1,334.9 355.6,341.9 356.4,343.9 357.6,345.4 359.1,346.4 359.9,346.4 360.1,346.6 362.4,346.4 364.4,345.4 365.1,344.6 365.4,343.4 366.1,342.4 366.6,342.1 368.1,342.1 371.9,344.4 373.9,347.1 373.9,350.6 373.6,350.9 373.1,353.6 371.6,356.1 368.6,359.1 365.9,360.9 362.6,362.1 360.1,362.1 359.4,361.9 358.1,360.9 357.1,358.6 355.6,357.4 353.6,357.1 353.4,356.9 350.4,356.9 349.1,357.4 346.9,357.4 346.1,356.9 345.4,356.9 344.4,357.9 343.6,359.4 342.4,360.9 340.1,365.1 338.1,367.1 336.1,368.4 334.4,368.9 331.1,370.6 329.9,370.9 327.6,372.1 327.1,372.1 322.9,374.1 322.1,375.1 323.6,376.9 323.6,378.1 323.1,378.6 321.6,379.4 317.4,380.1 316.4,380.6 310.6,381.1 310.4,381.4 306.1,382.1 305.4,382.6 304.1,382.9 302.1,384.1 300.1,386.1 297.6,389.6 297.4,390.6 296.6,391.9 296.6,393.9 296.9,394.1 296.9,395.6 298.1,399.1 298.1,399.9 300.4,403.6 301.6,404.9 302.6,404.9 303.6,404.4 308.1,404.1 310.4,403.1 312.1,400.6 312.1,399.9 313.1,396.6 315.6,391.9 315.9,390.6 316.6,389.1 318.6,387.4 319.4,387.4 321.4,386.6 322.6,386.6 322.9,386.4 325.1,386.4 325.4,386.6 330.9,387.4 333.9,388.6 339.4,393.6 340.9,395.6 341.9,397.9 342.1,399.1 341.9,399.4 341.9,400.4 341.1,402.4 341.1,403.1 340.4,404.6 337.6,407.4 335.9,408.4 334.4,408.6 332.6,409.9 330.4,410.4 329.1,411.1 327.4,411.4 327.1,411.6 324.9,411.6 324.6,411.9 321.6,412.4 320.4,413.1 317.9,413.9 316.4,414.9 314.4,415.4 312.4,416.4 310.4,417.9 307.6,420.6 306.6,421.9 305.1,425.4 302.9,427.4 301.4,427.9 299.9,427.9 299.6,428.1 297.1,428.1 296.9,427.9 294.1,427.6 292.1,426.4 291.1,425.1 289.4,420.9 289.4,419.1 291.1,417.1 292.6,416.4 294.6,414.1 296.6,410.4 296.4,408.4 293.6,402.6 290.4,397.6 288.9,396.4 287.9,394.6 286.1,392.6 278.6,385.1 277.1,384.6 277.1,452.1 282.6,458.4 287.9,463.6 292.9,468.1 298.1,472.4 302.9,475.9 311.9,481.6 315.9,483.6 316.4,484.1 324.6,488.1 344.1,488.1 344.9,487.1 345.6,486.9 349.4,484.4 351.9,483.4 353.9,481.9 358.9,476.1 361.1,474.1 363.9,473.1 367.4,472.6 368.4,472.1 374.4,467.4 380.6,464.4 382.4,463.1 384.9,461.9 385.4,461.9 398.1,455.4 400.6,454.6 402.6,454.4 405.6,453.1 409.1,450.6 412.9,446.6 416.6,443.6 419.6,442.6 420.1,442.9 424.1,442.9 425.4,442.4 427.6,442.4 427.9,442.1 431.4,441.6 433.1,440.9 435.4,440.6 436.1,440.1 437.9,439.6 441.4,437.1 443.4,435.1 444.4,434.6 445.6,433.4 447.1,432.4 452.1,427.4 454.1,425.6 455.1,425.1 457.9,422.6 459.1,421.1 463.1,418.4 465.9,415.9 467.6,413.9 469.4,410.6 469.9,409.1 469.9,407.4 470.1,407.1 470.1,402.9 468.4,399.6 468.1,398.4 467.4,396.9 467.4,395.6 467.1,395.4 467.4,391.4 468.9,389.6 470.4,389.1 472.1,387.9 473.4,386.4 472.4,385.9 467.9,384.9 466.4,383.9 465.1,382.4 464.9,379.6 465.6,378.4 467.4,376.6 470.1,375.1 472.4,374.4 476.4,374.1 476.4,366.1 475.9,365.9 472.9,366.1 470.9,366.9 469.9,366.9 467.6,367.6 464.9,367.9 464.6,368.1 461.4,368.6 460.1,369.1 458.4,369.1 456.1,367.9 454.9,366.6 454.1,365.1 452.9,363.9 450.4,359.4 448.1,357.4 444.9,355.6 442.1,352.9 440.9,350.9 440.4,349.1 440.4,346.6 441.4,344.6 442.9,342.6 443.1,340.4 442.9,340.1 442.6,338.4 441.1,335.6 439.1,334.1 438.6,334.1 437.9,333.6 436.1,333.4 435.9,333.1 434.1,333.1 433.9,333.4 432.1,333.6 430.6,334.4 429.4,335.9 428.9,338.4 427.9,340.1 426.1,341.4 423.4,342.6 419.6,343.6 419.4,343.4 416.6,342.9 415.6,342.1 414.9,340.9 414.9,337.9 414.6,337.1 413.9,336.4 411.6,335.4 408.4,335.1 408.1,335.4 406.4,335.6 404.1,336.6 402.9,336.9 399.4,338.6 397.1,339.1 394.4,338.1 390.4,334.9 386.9,332.9 384.1,331.9 379.9,331.9 378.4,331.4 377.4,330.4 376.6,328.4 376.6,321.1 376.4,320.9 376.1,319.1 373.4,313.1 372.6,312.4 372.1,312.6 369.9,315.1 369.4,315.4 368.1,315.4 367.6,315.1 366.1,313.4 362.1,305.1 359.1,302.9 357.4,302.1 356.1,301.1 353.9,298.6 353.6,298.1 353.6,296.6 354.9,295.4 357.1,294.4 359.4,294.1 360.9,293.6 369.1,293.4 369.4,293.6 371.1,293.9 373.1,295.1 375.1,297.1 376.9,299.6 377.4,300.9 378.9,302.4 380.1,302.9 382.4,302.9 383.9,301.9 386.4,299.4 387.9,296.9 390.4,294.6 391.6,294.1 394.9,294.1 396.4,293.6 396.6,292.9 395.6,291.1 394.6,290.1ZM361.6,396.1 362.9,396.1 363.4,396.4 364.1,397.4 364.1,398.6 362.9,399.9 361.6,399.9 360.6,398.9 360.6,397.1ZM375.9,377.1 375.6,378.6 374.6,380.4 373.9,381.1 370.6,382.4 366.9,382.6 366.6,382.4 364.6,382.1 362.4,381.1 361.4,380.1 360.9,379.1 361.1,377.9 362.6,376.6 365.4,375.6 367.1,375.4 368.4,374.6 371.6,374.1 371.9,373.9 374.1,374.6 375.4,375.9Z"/>
<path fill="#0cb4ff" fill-rule="evenodd" d="M333.1,378.4 331.1,378.4 330.4,378.6 329.6,379.6 329.9,380.9 330.9,381.6 333.1,380.9 333.6,379.9 333.6,378.9ZM474.4,370.1 474.4,370.9 474.9,371.4 476.4,371.4 476.4,369.9 476.1,369.6 475.1,369.6ZM465.9,370.9 466.4,371.1 468.6,371.1 469.1,370.9 469.4,370.4 468.9,369.9 467.1,369.6 465.9,370.1ZM435.9,346.6 434.9,346.6 432.4,348.6 427.9,350.6 424.6,350.6 424.4,350.4 422.4,350.4 422.1,350.1 415.6,349.9 415.4,349.6 413.6,349.4 411.9,348.4 411.4,348.4 410.6,347.9 409.9,347.9 407.6,346.6 407.1,346.6 401.4,343.6 399.9,342.4 398.4,341.6 394.1,340.6 388.6,337.9 387.1,337.4 384.1,337.4 381.6,338.1 381.4,338.4 381.6,338.9 385.9,343.4 388.6,347.4 392.1,351.1 395.4,353.4 399.1,355.1 399.6,355.6 401.4,355.9 401.6,356.1 402.9,356.1 403.9,356.6 405.1,356.6 405.4,356.9 407.9,357.4 408.9,358.1 409.1,358.6 408.9,359.1 407.6,359.9 405.1,360.4 404.9,360.6 403.9,360.6 403.6,360.9 400.1,360.9 399.9,360.6 397.6,360.6 397.4,360.4 396.4,360.4 394.9,359.9 393.6,359.9 393.4,359.6 392.4,359.6 392.1,359.4 391.1,359.4 389.6,358.9 384.1,358.9 380.6,360.6 379.6,361.6 378.4,363.9 378.4,365.1 378.1,365.4 378.1,371.4 378.4,371.6 378.4,373.1 378.6,373.4 378.9,375.1 380.6,378.1 380.9,379.4 379.6,380.9 375.6,384.1 372.9,385.4 371.6,386.4 369.1,387.6 368.4,387.6 368.1,387.9 364.6,387.9 361.1,386.9 359.4,385.6 356.9,383.1 355.4,380.4 353.4,378.4 351.4,377.1 349.9,377.1 348.9,377.6 347.4,377.9 339.9,382.6 338.4,384.4 337.4,386.4 336.9,388.1 336.9,389.4 336.6,389.6 337.1,390.4 338.6,391.6 339.1,391.4 340.1,390.1 342.6,388.4 343.4,388.4 345.6,387.6 348.4,387.6 348.6,387.9 349.6,387.9 351.1,388.4 352.4,389.1 353.1,389.1 355.9,390.6 358.9,390.9 359.1,391.1 362.1,391.1 363.1,391.6 364.9,391.9 367.1,393.4 367.9,394.4 368.4,395.9 368.4,397.4 367.9,398.9 366.1,402.1 363.6,404.4 362.4,404.9 360.6,404.9 358.9,404.1 357.1,402.4 356.4,400.6 355.6,399.9 354.1,399.1 353.4,399.1 353.1,398.9 350.4,398.9 349.6,399.4 349.1,399.4 344.6,403.6 343.9,404.9 339.1,409.4 338.6,410.4 336.9,412.1 336.4,412.4 335.6,412.1 335.4,412.6 335.4,414.1 335.1,414.6 334.1,415.4 332.4,415.6 327.9,417.6 322.6,418.9 321.6,419.4 315.9,420.1 315.6,420.4 314.6,420.4 314.4,420.6 311.9,421.1 310.1,422.1 309.6,423.1 309.6,423.9 308.9,425.6 308.6,427.1 307.4,428.9 305.4,429.9 303.1,430.6 302.4,430.6 301.4,431.1 300.1,431.1 298.9,431.6 293.1,431.4 289.9,430.1 287.6,427.9 286.6,425.6 286.6,424.6 286.4,424.4 286.4,423.4 285.9,421.9 285.9,421.1 286.1,420.9 286.1,418.4 286.6,417.1 288.4,414.6 293.4,409.1 293.9,407.9 293.9,406.6 292.9,404.6 292.9,404.1 291.4,401.6 289.9,400.1 288.1,399.9 286.1,398.6 283.4,395.9 282.4,394.1 281.4,393.1 278.9,389.6 277.1,388.4 277.1,451.1 278.1,450.9 278.6,451.4 277.6,452.6 278.1,452.9 278.9,452.4 279.4,452.4 279.9,453.1 278.9,454.1 282.6,458.4 287.9,463.6 292.9,468.1 302.9,475.9 311.9,481.6 321.9,486.9 322.4,486.9 324.6,488.1 329.4,488.1 329.4,487.1 329.1,486.9 329.4,484.6 330.1,483.6 331.9,482.6 333.6,482.6 335.6,481.9 340.6,481.9 340.9,481.6 341.9,481.6 343.4,481.1 345.1,481.1 345.9,480.6 347.6,480.1 349.4,478.1 349.9,476.6 351.6,473.4 352.1,471.6 353.6,469.9 356.9,468.4 359.4,468.1 359.6,467.9 362.1,467.6 362.4,467.4 367.6,467.4 368.6,467.9 369.9,467.6 371.6,466.6 374.9,463.9 381.9,459.6 398.4,451.6 400.1,450.4 401.6,448.6 403.4,447.6 405.1,446.1 407.9,444.9 408.9,444.1 411.6,443.1 413.6,441.9 416.9,438.4 420.9,436.6 428.4,436.4 428.6,436.1 429.9,436.1 430.1,435.9 431.9,435.6 433.4,434.9 434.1,434.9 434.9,434.4 436.1,434.1 437.9,432.9 438.9,432.6 442.4,430.9 446.1,429.6 450.6,426.9 452.4,423.6 454.1,421.9 456.6,420.4 459.6,417.9 463.1,413.9 464.1,412.1 464.6,410.6 464.6,409.4 464.9,409.1 464.9,406.4 464.6,406.1 464.4,403.9 462.6,400.1 460.4,397.1 459.4,394.9 458.9,394.4 458.1,392.1 459.1,391.1 460.1,391.1 461.6,390.6 463.9,389.1 466.6,387.9 466.9,387.4 465.1,386.9 461.4,384.6 456.4,380.9 452.1,376.4 448.4,372.9 446.4,370.4 445.6,369.1 444.9,366.9 444.4,363.9 443.4,362.1 441.1,359.6 437.9,356.9 437.4,355.9 437.6,349.6 436.6,347.4ZM331.4,419.1 331.4,420.4 329.9,422.1 328.4,423.1 326.4,423.9 325.6,423.9 324.6,422.9 324.9,421.6 328.6,418.9 330.4,418.4ZM382.9,388.1 384.1,388.1 385.1,389.1 385.4,390.6 384.9,391.9 383.6,392.9 382.6,392.4 382.1,391.6 382.1,388.9ZM357.6,324.6 357.6,325.6 358.1,327.1 359.4,328.4 361.6,329.1 362.1,329.1 363.6,328.4 365.1,326.6 364.9,325.1 362.9,323.6 362.1,323.4 359.1,323.6 358.4,323.9ZM330.9,299.1 330.9,300.1 331.4,301.9 333.6,305.9 335.6,307.9 338.4,309.4 340.9,309.9 341.1,310.1 346.4,310.1 346.6,309.9 348.1,309.9 351.1,308.6 352.1,307.6 352.6,306.6 352.6,305.9 352.9,305.6 352.4,304.1 349.9,300.9 346.6,298.1 343.6,296.6 341.9,296.1 340.9,296.1 340.6,295.9 336.9,295.6 336.6,295.9 335.6,295.9 333.1,296.6 331.4,298.1ZM344.1,290.6 344.1,291.1 344.9,292.4 346.9,293.6 348.9,293.6 349.1,293.4 350.1,293.4 352.1,292.6 353.1,291.4 353.1,290.6 352.9,290.4 351.1,290.1 349.9,289.6 345.6,289.6 344.9,289.9ZM376.6,290.4 376.6,291.9 376.9,292.4 378.1,293.1 383.4,293.1 384.1,292.6 384.6,291.1 383.9,289.1 377.1,289.1Z"/>
<path fill="#00ff9c" fill-rule="evenodd" d="M460.1,406.6 458.4,402.6 456.4,400.4 450.9,397.9 447.6,395.9 447.1,395.9 445.9,395.1 442.9,394.6 441.4,394.1 440.9,393.6 440.9,391.6 439.9,389.6 438.9,383.1 437.9,380.9 436.4,379.4 432.4,377.6 430.1,375.4 428.6,372.1 428.6,369.9 428.4,369.6 428.1,367.9 426.9,365.9 424.1,363.9 421.1,363.1 420.9,363.4 419.1,363.6 414.1,366.4 408.9,368.1 405.6,369.9 404.4,370.1 402.9,370.9 399.6,371.1 399.4,371.4 393.6,371.6 393.4,371.9 392.4,371.9 392.1,372.1 391.1,372.1 389.6,372.6 388.1,372.6 386.6,373.1 383.9,373.1 382.6,373.9 382.1,374.9 382.1,376.4 383.6,378.4 385.6,379.6 386.9,379.9 388.1,380.6 390.9,381.6 392.1,382.9 392.1,383.9 390.1,386.4 390.1,386.9 388.9,389.1 388.4,391.6 387.9,392.6 387.9,393.9 387.4,394.9 386.9,397.9 387.4,398.9 388.4,399.9 388.9,401.4 386.9,403.6 383.6,405.1 382.6,405.1 381.4,405.6 377.9,405.6 376.9,405.1 373.4,401.1 372.1,400.4 371.1,400.4 370.6,401.1 370.4,403.4 369.6,405.1 368.6,406.1 367.4,406.6 366.9,407.1 364.6,407.9 359.9,407.9 359.6,407.6 358.4,407.6 356.9,407.1 354.9,407.1 353.4,406.6 349.6,406.6 349.4,406.9 347.1,407.1 344.6,408.6 343.6,409.6 341.4,413.6 339.9,415.1 337.6,418.6 337.4,420.4 335.6,423.1 332.1,425.6 329.1,426.9 327.9,426.9 327.6,427.1 325.1,427.6 324.4,428.1 321.1,428.6 319.6,429.4 317.9,429.6 312.4,431.6 310.4,431.9 308.6,432.6 307.9,432.6 304.9,433.9 303.9,433.9 302.6,434.6 301.9,434.6 300.6,435.1 298.9,435.1 298.6,435.4 291.9,435.4 291.6,435.1 289.9,434.9 288.6,434.1 287.6,433.9 285.9,432.6 284.4,431.1 283.1,428.6 283.1,427.9 284.9,423.1 284.9,421.4 285.4,419.6 285.4,417.6 286.4,415.6 285.9,414.1 285.1,413.1 282.4,412.1 281.6,412.1 279.1,413.1 278.4,413.1 277.1,412.4 277.1,449.4 277.6,449.4 278.6,450.4 281.1,453.6 281.9,455.1 288.6,462.1 293.6,466.6 299.1,470.9 300.1,472.1 300.4,471.9 301.1,472.6 301.1,473.1 300.6,473.9 301.6,472.9 302.1,473.4 302.1,473.9 301.6,474.6 302.6,473.6 302.9,473.9 302.4,475.4 303.6,474.4 303.9,475.1 303.4,475.9 304.4,474.9 304.6,475.1 304.6,475.6 304.1,476.4 304.4,476.9 311.9,481.6 320.1,485.9 321.1,484.6 321.4,485.1 321.6,484.9 321.9,485.4 322.1,485.1 322.4,485.6 322.6,485.4 322.9,486.1 323.4,485.6 323.6,486.1 323.9,485.9 324.1,486.4 324.4,486.1 324.6,486.6 324.9,486.4 325.1,486.9 325.6,486.6 325.9,487.1 326.1,486.9 326.4,487.4 326.9,487.1 327.4,487.4 327.6,487.9 327.9,487.6 328.1,488.1 328.9,488.1 328.6,485.1 329.1,483.9 330.1,482.9 331.4,482.1 333.6,481.9 335.1,480.6 336.1,480.4 336.6,479.9 345.1,475.6 349.1,471.4 350.9,468.1 352.6,466.4 356.1,464.6 357.9,464.1 363.4,463.9 363.6,463.6 369.1,462.9 369.4,462.6 371.1,462.6 371.6,462.9 372.6,462.4 378.1,458.1 384.1,455.1 385.4,454.1 387.4,453.1 388.6,452.9 390.4,451.9 394.1,450.6 394.9,450.1 396.9,447.9 398.1,445.4 399.1,441.1 400.1,439.4 400.9,438.6 402.6,437.6 405.9,436.6 407.9,436.4 411.4,434.9 413.9,433.1 416.9,429.9 419.6,428.9 421.1,428.9 421.4,428.6 431.6,428.6 431.9,428.9 434.4,429.1 434.6,428.9 435.9,428.9 438.4,428.1 443.1,427.9 446.6,426.9 447.4,425.9 447.6,422.9 448.4,421.4 449.1,420.6 450.9,419.9 451.4,419.4 451.9,419.4 455.6,416.9 459.1,413.1 460.4,410.6ZM286.9,441.1 287.9,441.6 289.4,443.6 289.1,446.1 287.4,448.1 285.4,448.9 283.9,448.9 282.1,447.4 281.6,446.4 281.6,445.6 281.4,445.4 281.6,443.4 281.9,442.9 283.6,441.4 284.4,441.1Z"/>
<path fill="#0cff00" fill-rule="evenodd" d="M277.1,414.6 277.1,425.4 282.1,424.4 282.6,423.9 283.6,421.4 283.6,417.9 283.1,416.4 281.4,415.4 280.6,415.4 279.6,414.9ZM455.6,406.9 452.6,403.6 446.1,400.4 443.4,398.4 441.4,397.4 440.6,397.4 439.4,396.9 438.4,396.9 438.1,396.6 435.6,396.9 435.1,396.6 433.9,395.1 433.4,391.9 431.4,389.6 424.9,384.6 420.9,382.4 419.4,381.1 416.4,379.9 414.1,377.9 413.1,377.4 410.4,377.1 410.1,376.9 406.6,377.1 405.9,377.6 405.4,377.6 404.4,378.6 403.9,382.4 402.1,385.6 400.4,387.9 399.6,389.6 399.6,391.9 400.9,394.1 402.9,396.1 404.1,396.9 406.1,397.4 406.6,397.9 406.6,398.4 405.4,399.6 403.1,401.1 399.1,403.1 398.6,403.1 395.6,404.6 393.9,405.1 392.9,405.9 392.4,405.9 389.4,407.4 385.4,407.9 385.1,408.1 383.6,408.1 383.4,408.4 381.9,408.4 381.6,408.6 380.1,408.6 379.9,408.9 378.4,408.9 376.6,409.4 375.1,409.4 374.9,409.6 373.4,409.6 371.6,410.1 359.9,409.9 358.1,410.6 357.1,410.6 354.4,411.6 353.4,411.6 350.4,412.9 346.6,413.6 344.4,414.9 342.1,417.4 341.4,418.9 341.4,419.4 341.6,419.6 343.6,419.6 343.9,419.9 346.9,420.4 347.6,420.9 348.9,421.1 351.6,422.9 352.1,423.6 352.1,424.4 351.1,425.9 352.6,427.6 352.1,428.4 350.6,428.9 348.9,428.9 348.6,429.1 345.1,429.1 342.9,430.4 337.6,432.1 334.9,431.1 333.9,429.9 333.1,429.4 331.6,430.4 331.6,430.6 329.6,432.4 327.6,433.4 326.1,433.6 320.9,435.9 319.6,436.9 317.6,437.6 316.1,438.9 308.9,443.1 307.6,444.4 307.6,445.1 309.4,445.9 312.4,449.1 315.9,451.1 316.4,451.1 317.1,451.6 319.9,452.1 320.9,452.6 321.9,453.6 322.6,454.9 322.6,455.9 321.1,457.6 319.4,458.4 318.4,458.4 317.1,457.9 313.9,457.6 312.6,456.9 311.4,456.6 309.9,455.9 308.1,454.4 306.4,453.4 303.1,453.4 301.6,452.4 299.6,448.6 297.6,448.6 297.4,448.9 295.1,449.1 293.9,449.6 291.4,449.9 288.4,450.9 285.9,451.1 284.1,452.1 282.4,454.1 282.4,454.9 288.9,461.6 293.9,466.1 298.4,469.6 301.6,472.6 306.9,476.4 307.6,477.4 307.9,477.1 308.4,477.9 308.6,477.6 308.9,477.9 308.9,478.4 308.4,479.1 308.6,479.6 312.9,482.1 313.4,482.1 314.4,481.1 314.6,481.6 314.9,481.4 315.1,481.9 315.4,481.6 315.6,482.1 315.9,481.9 316.1,482.4 316.4,482.1 316.6,482.6 316.9,482.4 321.9,484.9 322.4,484.9 324.9,486.1 327.9,487.1 328.1,486.9 328.1,485.1 328.9,483.4 329.6,482.6 331.4,481.6 332.6,481.6 333.9,481.1 334.9,480.1 335.6,479.9 338.1,477.1 343.4,473.4 346.9,469.6 348.4,466.9 351.1,463.9 353.4,462.6 353.9,462.6 355.1,461.9 356.4,461.6 358.6,460.6 360.6,460.6 361.9,460.1 365.1,459.6 366.1,459.1 368.6,459.1 368.9,458.9 369.6,458.9 370.1,459.4 370.1,460.4 370.9,460.4 373.1,459.1 374.6,457.6 380.6,454.6 381.1,454.6 383.1,453.4 383.6,453.4 385.4,452.1 386.9,451.6 390.4,449.4 392.9,446.9 395.6,442.1 396.6,439.1 397.9,437.1 399.9,435.1 401.4,434.1 401.9,434.1 405.4,432.4 407.6,431.6 410.1,429.6 410.6,425.9 411.9,424.9 415.9,424.9 416.6,424.6 419.4,422.4 420.9,421.6 421.9,421.6 423.6,420.9 426.1,420.4 426.6,419.9 429.4,418.6 430.4,417.4 430.1,415.1 428.1,411.9 425.1,409.4 423.4,405.6 423.4,404.4 423.6,403.9 425.1,402.4 426.4,402.4 429.1,405.1 431.4,406.6 434.4,408.1 439.1,411.6 440.4,413.9 440.6,416.6 439.9,418.4 438.1,421.1 438.1,422.1 438.9,423.9 440.4,425.1 441.1,424.9 441.9,424.1 443.1,421.6 446.9,417.9 451.4,415.9 454.1,413.4 454.9,412.1 455.6,409.6ZM354.6,442.4 355.6,442.4 356.6,442.9 357.4,443.6 358.4,445.6 358.4,448.1 357.1,449.6 355.6,449.9 354.4,448.9 353.6,446.9 353.4,443.9ZM364.4,413.9 366.9,414.1 367.4,414.4 368.4,415.6 368.9,417.4 369.1,420.4 371.6,425.1 371.6,426.4 371.1,427.1 370.1,427.9 368.1,428.1 366.1,427.4 365.4,427.4 363.4,426.4 361.1,424.1 360.4,422.6 360.4,417.6 361.1,416.1 361.9,415.4Z"/>
<path fill="#94ff00" fill-rule="evenodd" d="M355.9,433.9 354.4,432.6 352.9,432.1 351.1,432.1 349.6,432.6 348.4,433.6 346.1,434.1 344.4,435.1 342.6,437.1 340.4,441.9 338.9,444.4 333.6,449.6 328.4,457.4 327.1,458.6 320.6,462.1 319.1,463.4 315.9,465.4 315.1,466.1 305.6,472.6 304.6,473.6 304.6,474.1 306.4,475.9 309.6,478.1 310.4,479.1 310.6,478.9 310.9,479.4 311.1,479.1 311.6,479.9 311.9,479.6 312.1,480.1 312.4,479.9 312.9,480.6 313.1,480.4 313.4,480.9 313.9,480.6 314.9,481.4 315.4,481.4 318.1,482.9 320.9,483.9 322.4,483.9 332.4,478.1 336.1,474.9 339.6,472.4 341.6,470.1 346.6,462.6 347.6,461.6 350.4,460.4 353.1,457.4 354.6,453.1 354.9,451.1 353.6,450.1 353.1,449.1 353.1,448.4 352.6,447.6 352.4,443.6 352.9,442.4 353.6,441.6 356.4,440.6 356.4,439.1 356.9,437.9 356.9,436.1ZM402.9,422.9 402.4,422.6 400.9,422.6 397.9,421.4 396.4,421.4 396.1,421.1 394.4,421.1 394.1,421.4 392.6,421.4 392.4,421.6 390.6,421.9 388.6,422.9 388.1,422.9 385.4,424.6 381.9,428.4 379.1,428.4 378.9,428.6 378.1,428.6 375.4,430.1 372.9,432.6 371.9,434.1 369.9,438.4 369.9,439.1 369.1,441.4 369.1,442.4 368.9,442.6 368.9,444.9 368.6,445.1 368.9,449.6 369.1,449.9 369.4,451.9 370.6,455.1 372.6,457.6 375.4,456.6 380.1,454.1 381.9,453.6 382.4,453.1 384.1,452.4 384.9,451.6 385.9,451.4 388.4,449.4 389.1,446.9 389.1,445.6 389.4,445.4 389.4,439.4 390.1,438.6 391.4,438.6 391.6,438.4 393.4,438.1 396.6,436.6 401.9,431.9 403.1,428.9 403.1,425.1 403.4,424.9 403.4,423.6ZM409.6,407.6 407.4,408.4 405.6,409.9 404.6,412.1 404.6,413.9 405.1,415.4 406.6,417.1 408.6,418.1 411.4,418.4 413.6,417.6 415.4,416.1 416.4,413.9 416.4,412.1 415.9,410.6 414.4,408.9 412.4,407.9Z"/>
<path fill="#ffa400" fill-rule="evenodd" d="M351.1,438.4 350.4,438.4 349.1,439.4 345.1,445.6 343.9,446.9 343.1,448.4 340.4,451.4 339.6,453.1 336.6,456.9 336.1,457.9 334.4,459.6 322.4,466.1 321.6,466.9 308.6,475.6 308.1,476.1 308.1,476.6 311.9,479.6 314.9,481.1 316.4,481.6 317.9,481.6 321.9,479.1 328.4,475.6 336.9,469.1 337.6,468.1 338.4,466.4 338.4,462.6 338.6,462.4 338.6,461.4 340.9,457.6 341.9,456.9 342.4,456.9 343.9,457.6 346.6,457.6 348.1,456.9 349.6,455.1 350.1,453.4 350.1,452.4 349.6,450.9 349.6,449.4 349.9,449.1 349.6,448.6 349.6,443.6ZM396.4,426.9 394.9,427.4 390.6,430.1 389.9,430.4 387.6,430.4 384.9,433.9 382.9,435.9 380.1,434.9 378.4,435.1 377.4,435.6 375.1,437.9 374.4,439.1 373.4,441.9 373.4,442.9 373.1,443.1 373.1,447.4 373.4,447.6 373.6,449.4 374.6,451.4 376.1,452.9 377.4,453.4 379.4,453.4 381.4,452.4 382.6,451.1 384.1,448.6 384.9,446.1 384.9,445.1 385.1,444.9 385.1,441.1 384.9,440.9 384.6,439.1 383.9,437.6 383.9,436.9 387.9,432.4 388.9,432.4 390.6,433.6 392.1,433.4 393.9,431.1Z"/>
<path fill="#ff0000" fill-rule="evenodd" d="M336.6,460.9 335.9,460.9 333.1,462.9 332.1,463.1 324.6,467.6 310.4,477.1 310.1,477.9 311.9,479.4 313.4,480.1 315.6,480.4 323.6,475.4 327.4,473.4 335.6,467.1 336.1,466.1 336.1,463.9 336.4,463.6ZM347.4,446.4 346.4,447.1 344.1,450.4 343.1,451.4 341.4,453.9 341.1,454.6 341.6,454.9 342.9,454.6 344.1,455.4 344.9,455.4 345.1,455.6 346.6,455.1 347.6,454.1 347.9,452.4 347.6,452.1 347.6,447.4 347.4,447.1ZM380.1,439.1 378.9,439.1 377.9,439.6 376.6,441.1 375.9,443.1 375.9,446.4 376.6,448.1 377.6,449.1 378.4,449.4 380.1,448.9 381.4,447.6 382.4,445.1 382.4,442.1 381.6,440.4Z"/>
<path fill="#fff" fill-rule="evenodd" d="M277.1,450.1 277.1,488.1 328.1,488.1 325.4,487.1 323.1,485.9 322.6,485.9 314.4,481.6 308.1,477.9 301.9,473.6 296.6,469.6 288.6,462.6 283.6,457.6ZM476.4,411.9 475.9,412.1 474.4,412.1 474.1,413.1 473.6,413.4 471.1,416.1 469.4,419.1 466.4,421.9 463.9,424.6 463.4,425.6 461.4,427.4 459.6,427.9 457.9,427.9 457.6,428.1 456.9,428.1 455.9,428.9 455.4,428.9 451.4,432.4 449.1,433.6 448.6,434.6 448.6,435.4 451.4,439.4 451.9,440.9 451.9,443.4 450.6,445.4 448.4,447.6 444.9,450.4 444.1,450.4 442.9,451.1 439.6,451.1 439.4,451.4 434.1,451.1 433.9,450.9 432.1,450.9 431.1,450.4 429.4,450.4 426.1,451.6 422.4,451.6 422.1,451.4 421.4,451.4 421.1,451.6 419.1,451.9 417.6,453.1 415.6,456.1 413.4,458.4 411.6,459.4 410.9,459.4 408.1,460.4 401.1,460.9 394.6,463.1 393.9,463.1 393.4,463.6 392.1,463.9 391.6,464.4 389.6,465.4 389.1,465.4 386.1,466.9 384.9,467.9 383.9,468.1 379.6,470.4 378.1,470.6 377.1,471.4 374.9,471.9 373.9,472.6 373.1,472.6 370.9,474.1 369.4,474.6 368.4,475.6 363.1,478.6 360.1,480.9 355.9,484.9 353.1,486.4 350.9,488.1 476.4,488.1ZM470.1,352.9 468.4,352.9 466.4,353.9 465.9,354.9 465.9,357.4 466.4,357.9 467.9,357.9 469.6,357.1 470.4,355.1 470.4,353.4ZM424.6,319.1 424.1,319.1 423.4,319.6 422.6,319.6 422.1,320.1 421.9,320.9 422.1,322.6 423.1,323.1 424.1,323.1 425.1,322.4 425.1,319.9ZM315.6,315.9 315.4,317.4 316.6,318.4 317.9,318.4 318.4,317.9 318.4,316.6 317.4,315.6 316.1,315.6ZM406.9,313.6 405.1,314.4 404.4,315.1 403.9,316.1 403.6,318.9 403.9,319.1 403.9,320.4 404.6,322.1 406.1,323.1 407.9,323.1 409.4,321.9 409.9,320.9 409.9,318.6 408.6,315.6 408.4,314.4 407.9,313.9ZM409.9,289.1 410.1,291.4 410.9,293.4 410.9,295.4 409.9,296.9 409.9,298.4 411.1,299.6 413.1,300.4 414.1,301.4 413.9,302.4 412.4,303.6 411.9,304.6 413.4,305.9 414.1,305.9 416.1,306.6 418.1,306.4 418.9,305.9 420.6,305.4 421.9,305.4 422.4,305.6 423.6,307.6 425.1,313.6 425.9,314.9 425.9,315.4 426.9,316.4 428.1,316.9 432.4,316.9 433.6,316.4 434.6,316.4 434.9,316.1 437.6,315.6 438.9,314.6 441.1,313.9 444.6,313.9 444.9,314.1 448.6,314.9 453.9,317.6 457.4,320.4 459.1,321.1 461.4,322.6 463.1,322.9 464.4,323.6 465.4,323.6 466.4,324.1 467.1,324.1 468.4,324.9 469.9,325.1 470.9,325.9 471.9,326.1 473.6,328.4 476.4,329.6 476.4,289.1ZM277.1,289.1 277.1,336.4 279.1,336.4 280.4,337.1 281.6,338.4 282.1,339.6 283.1,340.9 283.6,342.6 284.1,343.4 284.6,345.9 285.4,347.4 285.6,349.1 286.4,350.6 286.9,352.6 287.9,353.1 288.6,352.9 292.1,350.4 293.1,350.1 295.1,348.9 298.4,349.1 300.4,350.4 302.9,351.4 303.9,351.4 304.1,351.6 305.1,351.6 306.6,352.1 308.6,352.1 309.1,351.9 307.4,349.9 306.4,349.4 305.4,348.4 303.4,347.9 302.6,347.1 302.1,347.1 300.9,346.1 297.4,342.4 294.6,337.4 293.4,335.6 292.4,334.9 291.9,333.6 290.4,331.4 290.4,330.6 289.4,328.4 288.6,324.9 288.4,324.6 288.4,321.6 288.9,320.4 290.6,317.9 299.1,309.1 300.1,308.9 300.6,308.4 302.4,307.6 304.1,307.6 307.4,308.6 309.1,309.9 310.1,309.6 310.6,309.1 311.4,306.9 313.4,303.1 316.4,300.4 322.1,294.4 323.9,292.9 327.4,290.9 328.6,289.1Z"/>
</g>
<path d="M277.0,388.4 L277.9,388.1 L285.7,386.0 L292.9,389.1 L297.1,396.3 L300.1,403.5 L308.4,403.9 L314.6,401.4 L316.6,395.3 L317.6,390.1 L327.9,383.2 L335.1,385.3 L339.2,378.5 L347.5,361.6 L362.9,362.0 L369.1,357.3 L375.3,357.8 L380.1,355.4 L386.1,345.8 L394.4,338.7 L399.2,326.8 L406.4,323.2 L408.7,325.6 L412.3,322.0 L414.7,323.2 L420.7,316.0 L425.4,312.4 L427.8,306.5 L435.0,302.9 L441.0,300.5 L442.2,296.9 L435.0,294.5 L430.2,289.0 M442.2,296.9 L443.4,295.7 L449.3,293.3 L458.9,292.2 L468.4,289.1 M375.3,358.3 L370.6,363.8 L369.4,372.1 L370.1,380.5 L374.1,382.1 L377.7,380.5 L383.7,381.7 L387.3,380.5 L389.7,381.7 L387.3,384.0 L390.8,388.8 L396.8,393.6 L405.2,397.2 L408.7,400.8 L419.4,405.8 L429.4,407.8 L439.4,412.8 L447.4,418.8 L453.4,430.8 L456.4,440.8 L457.4,446.8 L461.4,452.8 L464.4,458.8 L467.4,467.8 L470.4,473.8 L469.4,479.8 L473.4,485.8 M433.8,313.6 L435.0,314.8 L433.8,316.0 L432.6,314.8 L433.8,313.6 M277.2,449.1 L287.3,448.5 L301.5,448.3 L298.5,457.2 L293.5,468.3 L289.8,475.7 L288.0,479.4 L289.2,483.1 L292.3,486.4 L297.2,486.6 L305.2,486.4" fill="none" stroke="#333" stroke-width="0.55" stroke-opacity="0.75" stroke-linejoin="round"/>
<g clip-path="url(#cd)"><line x1="279.2" y1="424.9" x2="474.7" y2="386.9" stroke="#000" stroke-width="1.75"/></g>
<path d="M373.6,388.4h5.4M376.3,385.7v5.4" stroke="#111" stroke-width="0.9"/>
<rect x="276.5" y="11.4" width="198.9" height="198.4" fill="none" stroke="#6e6e6e" stroke-width="0.95"/>
<path d="M422.8,11.4v-6M422.8,209.8v6M276.5,87.9h-6M475.4,87.9h6" stroke="#666" stroke-width="0.8" fill="none"/>
<path d="M289.9,11.4v-3M289.9,209.8v3M356.4,11.4v-3M356.4,209.8v3M276.5,21.7h-3M475.4,21.7h3M276.5,154.1h-3M475.4,154.1h3" stroke="#bbb" stroke-width="0.7" fill="none"/>
<text x="264.3" y="91.3" font-size="9.5" text-anchor="end" fill="#111" stroke="#111" stroke-width="0.2">35N</text>
<text x="422.5" y="230.0" font-size="8.9" text-anchor="middle" fill="#111" stroke="#111" stroke-width="0.22">120E</text>
<text x="278.5" y="23.2" font-size="14.5" class="s" fill="#222">(b)</text>
<rect x="299.8" y="236.1" width="48.5" height="17.2" fill="#0000fb"/>
<rect x="348.2" y="236.1" width="48.5" height="17.2" fill="#00f000"/>
<rect x="396.6" y="236.1" width="48.5" height="17.2" fill="#208c4c"/>
<g class="s" font-size="11" fill="#111">
<text x="300.4" y="266.4">Stratiform</text>
<text x="350.0" y="266.4">Convective</text>
<text x="410.7" y="266.4">others</text>
</g>
<rect x="34.0" y="288.9" width="199.0" height="199.0" fill="none" stroke="#6e6e6e" stroke-width="0.95"/>
<path d="M180.3,288.9v-6M180.3,487.9v6M34.0,365.4h-6M233.0,365.4h6" stroke="#666" stroke-width="0.8" fill="none"/>
<path d="M47.4,288.9v-3M47.4,487.9v3M113.9,288.9v-3M113.9,487.9v3M34.0,299.2h-3M233.0,299.2h3M34.0,431.6h-3M233.0,431.6h3" stroke="#bbb" stroke-width="0.7" fill="none"/>
<text x="21.8" y="368.8" font-size="9.5" text-anchor="end" fill="#111" stroke="#111" stroke-width="0.2">35N</text>
<text x="180.0" y="508.1" font-size="8.9" text-anchor="middle" fill="#111" stroke="#111" stroke-width="0.22">120E</text>
<text x="36.0" y="300.7" font-size="14.5" class="s" fill="#e8e8f4">(c)</text>
<rect x="277.0" y="289.0" width="199.4" height="199.3" fill="none" stroke="#6e6e6e" stroke-width="0.95"/>
<path d="M423.3,289.0v-6M423.3,488.3v6M277.0,365.5h-6M476.4,365.5h6" stroke="#666" stroke-width="0.8" fill="none"/>
<path d="M290.4,289.0v-3M290.4,488.3v3M356.9,289.0v-3M356.9,488.3v3M277.0,299.3h-3M476.4,299.3h3M277.0,431.7h-3M476.4,431.7h3" stroke="#bbb" stroke-width="0.7" fill="none"/>
<text x="264.8" y="368.9" font-size="9.5" text-anchor="end" fill="#111" stroke="#111" stroke-width="0.2">35N</text>
<text x="423.0" y="508.5" font-size="8.9" text-anchor="middle" fill="#111" stroke="#111" stroke-width="0.22">120E</text>
<text x="279.0" y="300.8" font-size="14.5" class="s" fill="#222">(d)</text>
<rect x="37.20" y="515.4" width="11.45" height="17.8" fill="#5c00a4"/>
<rect x="48.55" y="515.4" width="11.45" height="17.8" fill="#3e00e4"/>
<rect x="59.91" y="515.4" width="11.45" height="17.8" fill="#0600ff"/>
<rect x="71.26" y="515.4" width="11.45" height="17.8" fill="#0054ff"/>
<rect x="82.61" y="515.4" width="11.45" height="17.8" fill="#00a0ff"/>
<rect x="93.96" y="515.4" width="11.45" height="17.8" fill="#00e0ff"/>
<rect x="105.32" y="515.4" width="11.45" height="17.8" fill="#00ffd0"/>
<rect x="116.67" y="515.4" width="11.45" height="17.8" fill="#00ff84"/>
<rect x="128.02" y="515.4" width="11.45" height="17.8" fill="#00ff40"/>
<rect x="139.38" y="515.4" width="11.45" height="17.8" fill="#00ff00"/>
<rect x="150.73" y="515.4" width="11.45" height="17.8" fill="#0cff00"/>
<rect x="162.08" y="515.4" width="11.45" height="17.8" fill="#28ff00"/>
<rect x="173.44" y="515.4" width="11.45" height="17.8" fill="#b4ff00"/>
<rect x="184.79" y="515.4" width="11.45" height="17.8" fill="#ffe000"/>
<rect x="196.14" y="515.4" width="11.45" height="17.8" fill="#ff9400"/>
<rect x="207.49" y="515.4" width="11.45" height="17.8" fill="#ff4c00"/>
<rect x="218.85" y="515.4" width="11.45" height="17.8" fill="#ff0000"/>
<path d="M48.55,515.4v17.8M59.91,515.4v17.8M71.26,515.4v17.8M82.61,515.4v17.8M93.96,515.4v17.8M105.32,515.4v17.8M116.67,515.4v17.8M128.02,515.4v17.8M139.38,515.4v17.8M150.73,515.4v17.8M162.08,515.4v17.8M173.44,515.4v17.8M184.79,515.4v17.8M196.14,515.4v17.8M207.49,515.4v17.8M218.85,515.4v17.8" stroke="#222" stroke-opacity="0.45" stroke-width="0.5"/>
<text x="48.6" y="545.0" font-size="9.0" text-anchor="middle" fill="#111" stroke="#111" stroke-width="0.2">0</text>
<text x="71.3" y="545.0" font-size="9.0" text-anchor="middle" fill="#111" stroke="#111" stroke-width="0.2">2</text>
<text x="94.0" y="545.0" font-size="9.0" text-anchor="middle" fill="#111" stroke="#111" stroke-width="0.2">4</text>
<text x="116.7" y="545.0" font-size="9.0" text-anchor="middle" fill="#111" stroke="#111" stroke-width="0.2">6</text>
<text x="139.4" y="545.0" font-size="9.0" text-anchor="middle" fill="#111" stroke="#111" stroke-width="0.2">8</text>
<text x="162.1" y="545.0" font-size="9.0" text-anchor="middle" fill="#111" stroke="#111" stroke-width="0.2">10</text>
<text x="184.8" y="545.0" font-size="9.0" text-anchor="middle" fill="#111" stroke="#111" stroke-width="0.2">12</text>
<text x="207.5" y="545.0" font-size="9.0" text-anchor="middle" fill="#111" stroke="#111" stroke-width="0.2">14</text>
<rect x="280.40" y="515.4" width="24.23" height="17.8" fill="#5e00a0"/>
<rect x="304.52" y="515.4" width="24.23" height="17.8" fill="#0000ff"/>
<rect x="328.65" y="515.4" width="24.23" height="17.8" fill="#0cb4ff"/>
<rect x="352.77" y="515.4" width="24.23" height="17.8" fill="#00ff9c"/>
<rect x="376.90" y="515.4" width="24.23" height="17.8" fill="#0cff00"/>
<rect x="401.02" y="515.4" width="24.23" height="17.8" fill="#94ff00"/>
<rect x="425.15" y="515.4" width="24.23" height="17.8" fill="#ffa400"/>
<rect x="449.27" y="515.4" width="24.23" height="17.8" fill="#ff0000"/>
<path d="M304.52,515.4v17.8M328.65,515.4v17.8M352.77,515.4v17.8M376.90,515.4v17.8M401.02,515.4v17.8M425.15,515.4v17.8M449.27,515.4v17.8" stroke="#222" stroke-opacity="0.45" stroke-width="0.5"/>
<text x="304.5" y="545.0" font-size="9.0" text-anchor="middle" fill="#111" stroke="#111" stroke-width="0.2">18</text>
<text x="328.6" y="545.0" font-size="9.0" text-anchor="middle" fill="#111" stroke="#111" stroke-width="0.2">24</text>
<text x="352.8" y="545.0" font-size="9.0" text-anchor="middle" fill="#111" stroke="#111" stroke-width="0.2">30</text>
<text x="376.9" y="545.0" font-size="9.0" text-anchor="middle" fill="#111" stroke="#111" stroke-width="0.2">36</text>
<text x="401.0" y="545.0" font-size="9.0" text-anchor="middle" fill="#111" stroke="#111" stroke-width="0.2">42</text>
<text x="425.1" y="545.0" font-size="9.0" text-anchor="middle" fill="#111" stroke="#111" stroke-width="0.2">48</text>
<text x="449.3" y="545.0" font-size="9.0" text-anchor="middle" fill="#111" stroke="#111" stroke-width="0.2">51</text>
</svg></body></html>
